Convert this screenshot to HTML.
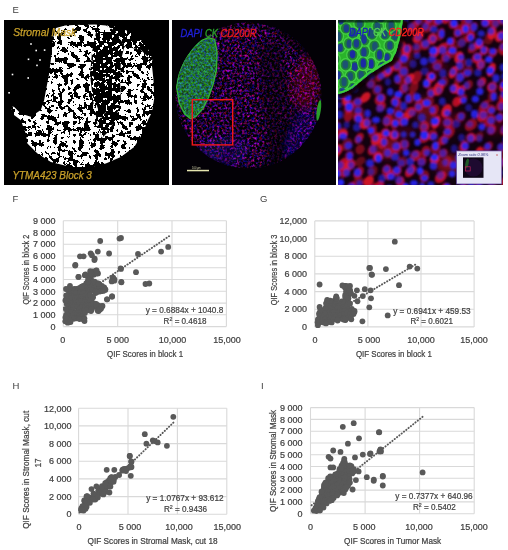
<!DOCTYPE html>
<html><head><meta charset="utf-8"><title>Figure</title>
<style>html,body{margin:0;padding:0;background:#fff;width:508px;height:550px;overflow:hidden}svg{display:block}</style>
</head><body>
<svg width="508" height="550" viewBox="0 0 508 550">
<rect width="508" height="550" fill="#fff"/>
<defs><filter id="spkD" x="0" y="0" width="1" height="1" color-interpolation-filters="sRGB"><feTurbulence type="fractalNoise" baseFrequency="0.19" numOctaves="4" seed="3"/><feColorMatrix type="matrix" values="0 0 0 0 1 0 0 0 0 1 0 0 0 0 1 1 0 0 0 0"/><feComponentTransfer><feFuncA type="discrete" tableValues="0 0 0 0 0 0 0 0 0 0 0 0 0 0 0 0 0 0 0 0 0 0 0 1 1 1 1 1 1 1 1 1 1 1 1 1 1 1 1 1 1 1 1 1 1 1 1 1 1 1"/></feComponentTransfer><feGaussianBlur stdDeviation="0.35"/></filter><filter id="spkS" x="0" y="0" width="1" height="1" color-interpolation-filters="sRGB"><feTurbulence type="fractalNoise" baseFrequency="0.25" numOctaves="2" seed="9"/><feColorMatrix type="matrix" values="0 0 0 0 1 0 0 0 0 1 0 0 0 0 1 1 0 0 0 0"/><feComponentTransfer><feFuncA type="discrete" tableValues="0 0 0 0 0 0 0 0 0 0 0 0 0 0 0 0 0 0 0 0 0 0 0 0 0 0 0 0 0 0 1 1 1 1 1 1 1 1 1 1 1 1 1 1 1 1 1 1 1 1"/></feComponentTransfer><feGaussianBlur stdDeviation="0.35"/></filter><filter id="spkX" x="0" y="0" width="1" height="1" color-interpolation-filters="sRGB"><feTurbulence type="fractalNoise" baseFrequency="0.3" numOctaves="2" seed="12"/><feColorMatrix type="matrix" values="0 0 0 0 1 0 0 0 0 1 0 0 0 0 1 1 0 0 0 0"/><feComponentTransfer><feFuncA type="discrete" tableValues="0 0 0 0 0 0 0 0 0 0 0 0 0 0 0 0 0 0 0 0 0 0 0 0 0 0 0 0 0 0 0 0 0 1 1 1 1 1 1 1 1 1 1 1 1 1 1 1 1 1"/></feComponentTransfer><feGaussianBlur stdDeviation="0.35"/></filter><filter id="fl2" x="0" y="0" width="1" height="1" color-interpolation-filters="sRGB"><feTurbulence type="fractalNoise" baseFrequency="0.4" numOctaves="2" seed="4"/><feColorMatrix type="matrix" values="1.7 0.7 0 0 -1.1  0 0 0 0 0.01  0.7 1.7 0 0 -1.02  0 0 0 0 1"/><feGaussianBlur stdDeviation="0.5"/></filter><filter id="fl2g" x="0" y="0" width="1" height="1" color-interpolation-filters="sRGB"><feTurbulence type="fractalNoise" baseFrequency="0.45" numOctaves="2" seed="8"/><feColorMatrix type="matrix" values="0.2 0 0 0 0.04  1.1 0 0 0 -0.1  0 2.0 0 0 -0.7  0 0 0 0 1"/><feGaussianBlur stdDeviation="0.3"/></filter><filter id="bl1" x="-5%" y="-5%" width="110%" height="110%"><feGaussianBlur stdDeviation="1"/></filter><filter id="bl2" x="-20%" y="-20%" width="140%" height="140%"><feGaussianBlur stdDeviation="3"/></filter><filter id="bl3" x="-5%" y="-5%" width="110%" height="110%"><feGaussianBlur stdDeviation="0.5"/></filter><clipPath id="c1"><polygon points="74,25 95,24.5 106,25.5 114,30 120,38 124,46 132,48 141,50 148,57 152,66 153.5,80 154.3,98 152,112 148,120 142.6,133.5 134.2,146.9 120.8,156.9 105.8,163.6 90.7,166.9 70.9,166.9 50.9,161.9 37.5,153.5 27.4,143.5 25.8,133.5 20.7,120 14,115 10.7,106.7 14,106.7 20.7,113.4 30.8,116.7 40.8,110 44.2,100 46,90 48.9,75 51.4,55 53,38 56,28 65,25.5"/></clipPath><clipPath id="c1s"><polygon points="92,52 96,32 124,32 130,40 124,48 121,60 120,80 121,100 116,118 108,132 102,138 97,122 93,100 90,75"/></clipPath><clipPath id="c1t"><polygon points="104,25 118,27 130,32 140,39 147,47 152,58 153.5,72 148,57 141,50 132,48 124,46 120,38 114,30"/></clipPath><clipPath id="c2"><circle cx="248.5" cy="95.5" r="73"/></clipPath><clipPath id="c3"><rect x="338" y="20" width="165" height="165"/></clipPath></defs>
<rect x="4" y="20" width="165" height="165" fill="#000"/><g clip-path="url(#c1)"><rect x="4" y="20" width="165" height="165" filter="url(#spkD)"/><polygon points="92,52 96,32 124,32 130,40 124,48 121,60 120,80 121,100 116,118 108,132 102,138 97,122 93,100 90,75" fill="#000"/><g clip-path="url(#c1s)"><rect x="4" y="20" width="165" height="165" filter="url(#spkS)"/></g><polygon points="92,55 100,52 104,70 106,100 106,112 101,118 95,100" fill="#000"/><g clip-path="url(#c1)"><polygon points="92,55 100,52 104,70 106,100 106,112 101,118 95,100" filter="url(#spkX)"/></g></g><g clip-path="url(#c1t)"><rect x="4" y="20" width="165" height="165" filter="url(#spkS)"/></g><rect x="35.4" y="49.7" width="1.6" height="1.6" fill="#fff"/><rect x="43.8" y="49.3" width="1.6" height="1.6" fill="#fff"/><rect x="27.7" y="58.5" width="1.6" height="1.6" fill="#fff"/><rect x="36.2" y="64.6" width="1.6" height="1.6" fill="#fff"/><rect x="11.7" y="73.7" width="1.6" height="1.6" fill="#fff"/><rect x="27.4" y="77.2" width="1.6" height="1.6" fill="#fff"/><rect x="8.3" y="92" width="1.6" height="1.6" fill="#fff"/><rect x="39.2" y="59.2" width="1.6" height="1.6" fill="#fff"/><rect x="30.2" y="43.2" width="1.6" height="1.6" fill="#fff"/><g style="font-family:'Liberation Sans',Arial,sans-serif;font-style:italic" stroke="#c9a12a" stroke-width="0.25"><text x="13.2" y="36.2" font-size="10" fill="#c9a12a" textLength="63" lengthAdjust="spacingAndGlyphs">Stromal Mask</text><text x="12.4" y="178.9" font-size="10" fill="#c9a12a" textLength="79.5" lengthAdjust="spacingAndGlyphs">YTMA423 Block 3</text></g>
<rect x="172" y="20" width="164" height="165" fill="#030106"/><g clip-path="url(#c2)"><rect x="175" y="22" width="148" height="148" fill="#0a0418"/><rect x="175" y="22" width="148" height="148" filter="url(#fl2)"/><g filter="url(#bl2)"><polygon points="258,45 280,40 290,90 288,160 268,165 262,110" fill="#000" opacity="0.45"/><polygon points="262,20 300,20 330,45 318,60 300,55 285,40" fill="#000" opacity="0.6"/><polygon points="300,95 310,100 275,170 262,168" fill="#000" opacity="0.35"/><polygon points="240,120 250,122 225,170 215,168" fill="#000" opacity="0.25"/><circle cx="248.5" cy="95.5" r="76" fill="none" stroke="#000" stroke-width="8" opacity="0.5"/><ellipse cx="305" cy="85" rx="12" ry="25" fill="#ff1030" opacity="0.18"/><ellipse cx="225" cy="150" rx="25" ry="14" fill="#3020ff" opacity="0.15"/><ellipse cx="300" cy="135" rx="10" ry="28" transform="rotate(20 300 135)" fill="#2010ff" opacity="0.15"/></g><clipPath id="leafc"><polygon points="208.4,37.7 214.7,39.5 217.1,52.3 216.5,70.5 212.9,85 208.4,97.7 202.9,108.6 195.6,116.8 190.2,118.6 184.7,114.1 179.3,103.2 176.5,86.8 178.4,74.1 184.7,59.5 193.8,46.8 201.1,40.5"/></clipPath><polygon points="208.4,37.7 214.7,39.5 217.1,52.3 216.5,70.5 212.9,85 208.4,97.7 202.9,108.6 195.6,116.8 190.2,118.6 184.7,114.1 179.3,103.2 176.5,86.8 178.4,74.1 184.7,59.5 193.8,46.8 201.1,40.5" fill="#186428"/><g clip-path="url(#leafc)"><rect x="174" y="36" width="46" height="85" filter="url(#fl2g)" opacity="0.7"/></g><polygon points="208.4,37.7 214.7,39.5 217.1,52.3 216.5,70.5 212.9,85 208.4,97.7 202.9,108.6 195.6,116.8 190.2,118.6 184.7,114.1 179.3,103.2 176.5,86.8 178.4,74.1 184.7,59.5 193.8,46.8 201.1,40.5" fill="none" stroke="#36c036" stroke-width="1.3" stroke-opacity="0.9" filter="url(#bl3)"/></g><ellipse cx="318.8" cy="110.3" rx="2" ry="10.5" transform="rotate(8 318.8 110.3)" fill="#2aa02a"/><rect x="192.3" y="99.7" width="40.4" height="45.2" fill="none" stroke="#f01818" stroke-width="1.4"/><rect x="187" y="169.8" width="22" height="1.5" fill="#e6e6b0"/><text x="192" y="168.6" font-size="2.6" fill="#d8d8b0" style="font-family:'Liberation Sans',Arial,sans-serif">100 µm</text><g style="font-family:'Liberation Sans',Arial,sans-serif;font-style:italic"><text x="180.5" y="36.6" font-size="10.5" textLength="76" lengthAdjust="spacingAndGlyphs"><tspan fill="#2020d8" stroke="#2020d8" stroke-width="0.35">DAPI </tspan><tspan fill="#2aa02a" stroke="#2aa02a" stroke-width="0.35">CK </tspan><tspan fill="#e81c1c" stroke="#e81c1c" stroke-width="0.35">CD200R</tspan></text></g>
<rect x="338" y="20" width="165" height="165" fill="#12020f"/><g clip-path="url(#c3)"><g fill="#d01428" filter="url(#bl2)"><ellipse cx="490.8" cy="163.2" rx="11.3" ry="7.8" fill-opacity="0.3"/><ellipse cx="404.5" cy="131.7" rx="12.3" ry="6.3" fill-opacity="0.2"/><ellipse cx="449.7" cy="163.8" rx="14.5" ry="7.1" fill-opacity="0.2"/><ellipse cx="448" cy="120.4" rx="14.8" ry="9.2" fill-opacity="0.2"/><ellipse cx="423.1" cy="105.5" rx="9.9" ry="9.4" fill-opacity="0.3"/><ellipse cx="401.5" cy="57.2" rx="12.7" ry="11.4" fill-opacity="0.3"/><ellipse cx="359.2" cy="31.8" rx="10.6" ry="8.6" fill-opacity="0.3"/><ellipse cx="388.8" cy="146.5" rx="11.2" ry="7.8" fill-opacity="0.3"/><ellipse cx="387.7" cy="148.2" rx="14.5" ry="11.8" fill-opacity="0.3"/><ellipse cx="428.1" cy="118.1" rx="12.6" ry="9.3" fill-opacity="0.3"/><ellipse cx="448" cy="165.9" rx="15.5" ry="8" fill-opacity="0.2"/><ellipse cx="494.1" cy="127" rx="11.9" ry="7.9" fill-opacity="0.2"/><ellipse cx="437.5" cy="68.2" rx="11.2" ry="8.1" fill-opacity="0.2"/><ellipse cx="450.2" cy="163.7" rx="14.4" ry="9.9" fill-opacity="0.3"/></g><g filter="url(#bl1)"><g fill="#e0142a"><ellipse cx="410.8" cy="111.1" rx="6.5" ry="4.8" transform="rotate(-47 412.3 112.8)" fill-opacity="0.8"/><ellipse cx="494.4" cy="94.7" rx="6.9" ry="4.3" transform="rotate(-71.5 493.9 96.6)" fill-opacity="0.4"/><ellipse cx="443" cy="153.3" rx="5.3" ry="4.1" transform="rotate(-41.4 443 153.2)" fill-opacity="0.6"/><ellipse cx="349.7" cy="155.2" rx="5.6" ry="4" transform="rotate(-44.8 349.7 156.1)" fill-opacity="0.4"/><ellipse cx="452.7" cy="23.5" rx="5.3" ry="4.5" transform="rotate(-43.9 454 23.2)" fill-opacity="0.6"/><ellipse cx="505.6" cy="183.4" rx="5.2" ry="3.9" transform="rotate(-67.4 503.9 182.9)" fill-opacity="0.8"/><ellipse cx="447.2" cy="123.6" rx="5.9" ry="5.1" transform="rotate(-67.6 447.1 122.5)" fill-opacity="0.6"/><ellipse cx="425.8" cy="28.1" rx="6" ry="5.1" transform="rotate(-44.9 425.4 26.3)" fill-opacity="0.6"/><ellipse cx="423.8" cy="127.5" rx="6" ry="5" transform="rotate(-74.1 423.8 126.8)" fill-opacity="0.7"/><ellipse cx="480.5" cy="136.9" rx="5.4" ry="4" transform="rotate(-48.8 479.4 138.5)" fill-opacity="0.4"/><ellipse cx="390.5" cy="54.6" rx="7.2" ry="4.7" transform="rotate(-68.4 388.5 55.7)" fill-opacity="0.8"/><ellipse cx="384.7" cy="29.6" rx="6" ry="4.6" transform="rotate(-45.2 384 28.1)" fill-opacity="0.8"/><ellipse cx="468" cy="86.8" rx="5.3" ry="3.9" transform="rotate(-58.5 466.6 85.3)" fill-opacity="0.5"/><ellipse cx="481.8" cy="83.6" rx="5.6" ry="4" transform="rotate(-55 480.5 82.9)" fill-opacity="0.8"/><ellipse cx="499.8" cy="163.2" rx="5.4" ry="4.3" transform="rotate(-49.2 499.7 162.6)" fill-opacity="0.7"/><ellipse cx="332.4" cy="50.9" rx="6" ry="5.1" transform="rotate(-64.6 334.1 52.3)" fill-opacity="0.6"/><ellipse cx="502.7" cy="84.9" rx="6.5" ry="3.8" transform="rotate(-64 503.6 84.8)" fill-opacity="0.8"/><ellipse cx="501.6" cy="147.9" rx="6" ry="3.9" transform="rotate(-47.5 500.8 147.1)" fill-opacity="0.4"/><ellipse cx="354.7" cy="57.1" rx="6.7" ry="4.1" transform="rotate(-55.1 354.4 58.6)" fill-opacity="0.6"/><ellipse cx="472.6" cy="48.6" rx="7.2" ry="4.1" transform="rotate(-42.1 471.9 46.7)" fill-opacity="0.6"/><ellipse cx="432.3" cy="93.6" rx="5.5" ry="5" transform="rotate(-58.4 430.8 93.4)" fill-opacity="0.6"/><ellipse cx="385.5" cy="169.7" rx="6.1" ry="5" transform="rotate(-73.9 386.6 169.1)" fill-opacity="0.6"/><ellipse cx="371.3" cy="84.1" rx="5.1" ry="4.6" transform="rotate(-40.6 370.5 84.2)" fill-opacity="0.5"/><ellipse cx="351" cy="186.6" rx="6.6" ry="3.9" transform="rotate(-55.8 351.4 187.1)" fill-opacity="0.6"/><ellipse cx="468.3" cy="72.1" rx="6.8" ry="4.7" transform="rotate(-50.4 467.7 72.9)" fill-opacity="0.4"/><ellipse cx="350.3" cy="115.3" rx="6.3" ry="4.3" transform="rotate(-74.5 349.6 116.8)" fill-opacity="0.6"/><ellipse cx="365.3" cy="43.8" rx="5.1" ry="5" transform="rotate(-59.9 365.6 42.7)" fill-opacity="0.4"/><ellipse cx="489.9" cy="157.3" rx="6.4" ry="4.5" transform="rotate(-50.7 491.2 157.5)" fill-opacity="0.6"/><ellipse cx="376.9" cy="48.9" rx="6.3" ry="4.9" transform="rotate(-62.2 377.2 48.8)" fill-opacity="0.8"/><ellipse cx="367.8" cy="181.3" rx="6.2" ry="4.5" transform="rotate(-45.7 368 180.4)" fill-opacity="0.9"/><ellipse cx="374.9" cy="139.6" rx="7" ry="5" transform="rotate(-58 375.2 137.9)" fill-opacity="0.9"/><ellipse cx="379.5" cy="157.4" rx="5.5" ry="5" transform="rotate(-64.3 378.5 158.5)" fill-opacity="0.9"/><ellipse cx="438.8" cy="66.3" rx="6.1" ry="5.1" transform="rotate(-69.3 437.2 66.8)" fill-opacity="0.5"/><ellipse cx="345.9" cy="54.4" rx="5.4" ry="4.1" transform="rotate(-73.4 345.9 55.5)" fill-opacity="0.7"/><ellipse cx="491.8" cy="52.7" rx="5.5" ry="3.9" transform="rotate(-45.7 492.7 51.3)" fill-opacity="0.6"/><ellipse cx="337.7" cy="64.3" rx="7.2" ry="5" transform="rotate(-70.3 336.9 62.6)" fill-opacity="0.8"/><ellipse cx="412.8" cy="28.3" rx="7.4" ry="4.1" transform="rotate(-45.3 411.1 26.5)" fill-opacity="0.7"/><ellipse cx="432.8" cy="38.2" rx="5.7" ry="4.8" transform="rotate(-73.5 433 38.8)" fill-opacity="0.9"/><ellipse cx="396.3" cy="171.2" rx="5.2" ry="4.1" transform="rotate(-67.8 396.7 170.1)" fill-opacity="0.6"/><ellipse cx="505.5" cy="130.6" rx="7.3" ry="4.2" transform="rotate(-52.8 503.6 129.6)" fill-opacity="0.7"/><ellipse cx="336" cy="125" rx="7" ry="3.9" transform="rotate(-70 337.7 126.1)" fill-opacity="0.4"/><ellipse cx="469.9" cy="174.5" rx="7.5" ry="3.9" transform="rotate(-72.1 471.2 174.3)" fill-opacity="0.5"/><ellipse cx="393.9" cy="134.3" rx="5.3" ry="5" transform="rotate(-48.7 394.9 134.5)" fill-opacity="0.9"/><ellipse cx="489.5" cy="167.7" rx="6.1" ry="4.3" transform="rotate(-74.1 489.8 166.7)" fill-opacity="0.7"/><ellipse cx="482" cy="114.5" rx="6.6" ry="4.5" transform="rotate(-59.1 483.4 115.1)" fill-opacity="0.8"/><ellipse cx="442.5" cy="83.7" rx="6.5" ry="4.6" transform="rotate(-57.2 442.1 82.1)" fill-opacity="0.4"/><ellipse cx="434.3" cy="122.7" rx="6.9" ry="3.9" transform="rotate(-66.4 434.8 121.3)" fill-opacity="0.9"/><ellipse cx="460.4" cy="116.2" rx="6.1" ry="4.8" transform="rotate(-41.5 461.2 116.5)" fill-opacity="0.4"/><ellipse cx="348.9" cy="143.9" rx="7" ry="5.1" transform="rotate(-60.6 348.5 145.8)" fill-opacity="0.4"/><ellipse cx="455.8" cy="103.5" rx="5.4" ry="4.1" transform="rotate(-62.3 454.8 102)" fill-opacity="0.8"/><ellipse cx="439.3" cy="176.9" rx="7.1" ry="4.9" transform="rotate(-46.2 440.3 175.2)" fill-opacity="0.8"/><ellipse cx="378.6" cy="17.2" rx="7.1" ry="4.1" transform="rotate(-40.4 378.3 18)" fill-opacity="0.7"/><ellipse cx="385.6" cy="132.4" rx="5.3" ry="4.6" transform="rotate(-46.9 386.1 133.3)" fill-opacity="0.7"/><ellipse cx="491.6" cy="130.9" rx="5.5" ry="4" transform="rotate(-62.7 490.7 130.2)" fill-opacity="0.7"/><ellipse cx="409.9" cy="170.8" rx="7.2" ry="4.4" transform="rotate(-50.9 410.5 170.3)" fill-opacity="0.8"/><ellipse cx="357.4" cy="102.4" rx="6" ry="5" transform="rotate(-43.4 357.6 101.9)" fill-opacity="0.5"/><ellipse cx="478.7" cy="162" rx="6.9" ry="4.7" transform="rotate(-40 478.8 162.8)" fill-opacity="0.6"/><ellipse cx="502.2" cy="95.4" rx="6.6" ry="4.1" transform="rotate(-54.4 503.9 94.3)" fill-opacity="0.7"/><ellipse cx="486" cy="23.5" rx="5" ry="4.6" transform="rotate(-72.5 485 23.2)" fill-opacity="0.8"/><ellipse cx="388.2" cy="153.5" rx="5.1" ry="5" transform="rotate(-47.9 387.5 152.9)" fill-opacity="0.5"/><ellipse cx="337.7" cy="37.8" rx="6.7" ry="4.7" transform="rotate(-40.2 337.3 39.5)" fill-opacity="0.9"/><ellipse cx="476.5" cy="57.1" rx="5.7" ry="4.9" transform="rotate(-56.9 477.5 57.1)" fill-opacity="0.8"/><ellipse cx="451.2" cy="50.4" rx="7.5" ry="4.6" transform="rotate(-67 452.4 50.5)" fill-opacity="0.5"/><ellipse cx="416.3" cy="48.7" rx="7.3" ry="4" transform="rotate(-67.1 416.2 46.9)" fill-opacity="0.5"/><ellipse cx="380.3" cy="74.1" rx="6" ry="3.9" transform="rotate(-73.6 381.1 75.8)" fill-opacity="0.6"/><ellipse cx="489" cy="32.8" rx="6.8" ry="4.4" transform="rotate(-73.6 490.8 31.1)" fill-opacity="0.9"/><ellipse cx="401" cy="112.6" rx="7.4" ry="4.7" transform="rotate(-74.7 399.2 114.4)" fill-opacity="0.4"/><ellipse cx="459.8" cy="159.2" rx="6.9" ry="4.8" transform="rotate(-69.7 458.9 157.6)" fill-opacity="0.5"/><ellipse cx="443.8" cy="138.2" rx="5.1" ry="4.1" transform="rotate(-64.4 445 140.2)" fill-opacity="0.7"/><ellipse cx="372.3" cy="172.7" rx="6" ry="4.9" transform="rotate(-53.8 370.9 171.7)" fill-opacity="0.4"/><ellipse cx="427.6" cy="151" rx="6.2" ry="4.4" transform="rotate(-69.1 426.9 152.8)" fill-opacity="0.6"/><ellipse cx="419.4" cy="21.7" rx="6" ry="4.1" transform="rotate(-47.1 418.3 20.9)" fill-opacity="0.4"/><ellipse cx="472.2" cy="26.3" rx="7.1" ry="3.9" transform="rotate(-46.5 474 27.1)" fill-opacity="0.5"/><ellipse cx="383.1" cy="141.2" rx="6.4" ry="5" transform="rotate(-61.2 384.2 142.1)" fill-opacity="0.6"/><ellipse cx="480.9" cy="171" rx="5.5" ry="4.5" transform="rotate(-64.3 480.2 171.8)" fill-opacity="0.8"/><ellipse cx="503.1" cy="106" rx="6.7" ry="5.2" transform="rotate(-51 501.5 106.7)" fill-opacity="0.7"/><ellipse cx="432.7" cy="52.6" rx="6" ry="5" transform="rotate(-60.7 433.1 50.8)" fill-opacity="0.8"/><ellipse cx="428.3" cy="104.1" rx="6.9" ry="5.1" transform="rotate(-57.3 426.7 103)" fill-opacity="0.4"/><ellipse cx="438.4" cy="20.2" rx="7.1" ry="4.2" transform="rotate(-41.8 438.7 20.8)" fill-opacity="0.7"/><ellipse cx="379.4" cy="98.6" rx="6.4" ry="5" transform="rotate(-44.7 380.6 97.9)" fill-opacity="0.7"/><ellipse cx="365.2" cy="122.4" rx="6.2" ry="4.9" transform="rotate(-41.6 367.1 122.9)" fill-opacity="0.9"/><ellipse cx="466.9" cy="18.3" rx="7.1" ry="4.9" transform="rotate(-59 468.8 19.9)" fill-opacity="0.6"/><ellipse cx="452.6" cy="72.2" rx="6.7" ry="4" transform="rotate(-63.9 452.9 71.7)" fill-opacity="0.9"/><ellipse cx="394.4" cy="122.5" rx="5.8" ry="3.9" transform="rotate(-74.9 395.5 123.2)" fill-opacity="0.5"/><ellipse cx="424.2" cy="43.6" rx="5.6" ry="4.6" transform="rotate(-66.9 425.6 43.6)" fill-opacity="0.6"/><ellipse cx="491.4" cy="71.3" rx="7.4" ry="3.9" transform="rotate(-67.2 490.2 70.6)" fill-opacity="0.9"/><ellipse cx="372.4" cy="189.6" rx="6.4" ry="4.3" transform="rotate(-62.1 371.7 188.7)" fill-opacity="0.6"/><ellipse cx="488.4" cy="40.4" rx="6" ry="4.6" transform="rotate(-59.2 487.5 39.2)" fill-opacity="0.4"/><ellipse cx="471" cy="36.7" rx="6.1" ry="4.5" transform="rotate(-48.5 470.7 37.8)" fill-opacity="0.7"/><ellipse cx="500.4" cy="35.1" rx="6.3" ry="4.5" transform="rotate(-54.5 501.5 36)" fill-opacity="0.9"/><ellipse cx="477.7" cy="186.2" rx="6.1" ry="4.1" transform="rotate(-63.4 479.4 187.3)" fill-opacity="0.9"/><ellipse cx="363.4" cy="96.5" rx="6.1" ry="4.1" transform="rotate(-47.7 365.4 94.5)" fill-opacity="0.9"/><ellipse cx="503" cy="153.8" rx="6.8" ry="4.5" transform="rotate(-57.3 504 155.2)" fill-opacity="0.4"/><ellipse cx="335.5" cy="77.2" rx="5.9" ry="3.8" transform="rotate(-47.3 335.8 77.5)" fill-opacity="0.5"/><ellipse cx="427.2" cy="84.4" rx="5.6" ry="3.9" transform="rotate(-56.7 426.2 83.4)" fill-opacity="0.7"/><ellipse cx="503.6" cy="18.9" rx="5.3" ry="5" transform="rotate(-72.5 503.6 19.9)" fill-opacity="0.6"/><ellipse cx="396.3" cy="65.4" rx="5.8" ry="4.9" transform="rotate(-49.5 397.2 65.4)" fill-opacity="0.7"/><ellipse cx="448.7" cy="111.3" rx="7.3" ry="4.8" transform="rotate(-62.5 447.3 113)" fill-opacity="0.9"/><ellipse cx="346.8" cy="171" rx="6.9" ry="4.1" transform="rotate(-55 346.7 172.7)" fill-opacity="0.7"/><ellipse cx="409.7" cy="99.7" rx="6.2" ry="4.7" transform="rotate(-60.3 408.3 98.6)" fill-opacity="0.5"/><ellipse cx="426.1" cy="177.4" rx="6.3" ry="5" transform="rotate(-73.6 424.5 178.1)" fill-opacity="0.5"/><ellipse cx="460" cy="55.5" rx="6.4" ry="4.7" transform="rotate(-72.1 461 57.2)" fill-opacity="0.9"/><ellipse cx="470" cy="125.6" rx="7.1" ry="5.2" transform="rotate(-43.6 469.7 124.1)" fill-opacity="0.6"/><ellipse cx="440.9" cy="32.7" rx="7" ry="4.1" transform="rotate(-73.4 441.8 33.7)" fill-opacity="0.5"/><ellipse cx="347.2" cy="37.9" rx="5.5" ry="5" transform="rotate(-48.5 346.9 36.7)" fill-opacity="0.9"/><ellipse cx="445.9" cy="186.8" rx="5.2" ry="5" transform="rotate(-52.4 447.1 187.1)" fill-opacity="0.8"/><ellipse cx="409.4" cy="80.1" rx="6.8" ry="3.9" transform="rotate(-47.2 408 79.9)" fill-opacity="0.9"/><ellipse cx="370.7" cy="132.5" rx="7.3" ry="4" transform="rotate(-73.7 370.9 130.5)" fill-opacity="0.5"/><ellipse cx="397" cy="36.2" rx="7.3" ry="4.1" transform="rotate(-69.5 397.4 36.3)" fill-opacity="0.9"/><ellipse cx="493.5" cy="176.9" rx="7.1" ry="4.8" transform="rotate(-60.9 492.9 178.6)" fill-opacity="0.8"/><ellipse cx="397.7" cy="80.8" rx="5.2" ry="5.1" transform="rotate(-54.9 397.2 78.9)" fill-opacity="0.5"/><ellipse cx="447.8" cy="56.7" rx="6.1" ry="4.3" transform="rotate(-61.5 446.3 58.5)" fill-opacity="0.6"/><ellipse cx="492.1" cy="86.7" rx="5.6" ry="4.9" transform="rotate(-48.4 492.3 87)" fill-opacity="0.8"/><ellipse cx="461.9" cy="188" rx="5.4" ry="4.2" transform="rotate(-64.8 462.2 187.4)" fill-opacity="0.9"/><ellipse cx="399.2" cy="46.5" rx="5.5" ry="4.8" transform="rotate(-63.2 399 45)" fill-opacity="0.9"/><ellipse cx="483.4" cy="105.5" rx="7.5" ry="3.9" transform="rotate(-51.8 484.4 105.3)" fill-opacity="0.6"/><ellipse cx="382" cy="108" rx="5.7" ry="3.9" transform="rotate(-43.3 380.1 108.5)" fill-opacity="0.7"/><ellipse cx="360" cy="149.3" rx="5.3" ry="4.5" transform="rotate(-60.7 360.1 149.3)" fill-opacity="0.5"/><ellipse cx="335" cy="156.3" rx="6.6" ry="4.4" transform="rotate(-40.8 334.2 158.1)" fill-opacity="0.6"/><ellipse cx="459.8" cy="32.4" rx="7.2" ry="4.5" transform="rotate(-61.3 458 32.8)" fill-opacity="0.6"/><ellipse cx="499.5" cy="118.4" rx="5.3" ry="3.9" transform="rotate(-73.6 499.3 117.5)" fill-opacity="0.6"/><ellipse cx="359.5" cy="160.2" rx="5.8" ry="4" transform="rotate(-44.4 361.3 159.9)" fill-opacity="0.4"/><ellipse cx="386.7" cy="69.9" rx="7.3" ry="5.2" transform="rotate(-49.4 387.9 69.8)" fill-opacity="0.9"/><ellipse cx="396.3" cy="102.7" rx="5.1" ry="5.1" transform="rotate(-61.4 395 102.6)" fill-opacity="0.7"/><ellipse cx="359.8" cy="139.2" rx="6.1" ry="3.9" transform="rotate(-54.1 358.5 139.4)" fill-opacity="0.7"/><ellipse cx="444.1" cy="48.4" rx="6.2" ry="4.2" transform="rotate(-42.5 442.5 50.2)" fill-opacity="0.8"/><ellipse cx="434.1" cy="134.7" rx="5.6" ry="5.1" transform="rotate(-54.6 433.7 136.6)" fill-opacity="0.6"/><ellipse cx="391.2" cy="174.8" rx="5.7" ry="4.4" transform="rotate(-42.4 390.9 176.7)" fill-opacity="0.7"/><ellipse cx="357.8" cy="173.6" rx="7.2" ry="4.4" transform="rotate(-55.7 357.5 172.4)" fill-opacity="0.6"/><ellipse cx="490.9" cy="189" rx="6.2" ry="4.4" transform="rotate(-48.5 491.3 187.6)" fill-opacity="0.5"/><ellipse cx="450.3" cy="42.6" rx="5.3" ry="4.3" transform="rotate(-42 450.1 41)" fill-opacity="0.6"/><ellipse cx="414.4" cy="86.1" rx="6.6" ry="4.2" transform="rotate(-65.3 415.3 87.2)" fill-opacity="0.5"/><ellipse cx="464.1" cy="145.1" rx="6.2" ry="4.5" transform="rotate(-74.4 465.1 146)" fill-opacity="0.8"/><ellipse cx="345" cy="134.6" rx="5.3" ry="5" transform="rotate(-52.9 343 136.2)" fill-opacity="0.9"/><ellipse cx="375.3" cy="65.8" rx="6.7" ry="4.2" transform="rotate(-46 376.2 67.8)" fill-opacity="0.4"/><ellipse cx="422.4" cy="162" rx="5.2" ry="4.1" transform="rotate(-44.2 421.5 162.3)" fill-opacity="0.6"/><ellipse cx="433.2" cy="111.8" rx="6.3" ry="4.3" transform="rotate(-62.6 432.4 110)" fill-opacity="0.6"/><ellipse cx="478.9" cy="153.7" rx="5.2" ry="4" transform="rotate(-69.8 477.8 152.1)" fill-opacity="0.9"/><ellipse cx="343.3" cy="85.3" rx="7" ry="4.2" transform="rotate(-52.1 344.6 87)" fill-opacity="0.7"/><ellipse cx="398.3" cy="52.5" rx="6.4" ry="4.2" transform="rotate(-65.5 397 53.4)" fill-opacity="0.6"/><ellipse cx="358" cy="52.4" rx="6.1" ry="4.5" transform="rotate(-66.2 359.5 51.4)" fill-opacity="0.5"/><ellipse cx="374.8" cy="33.7" rx="7.2" ry="4.3" transform="rotate(-44.1 375.5 32.1)" fill-opacity="0.8"/><ellipse cx="404.1" cy="86.9" rx="5.1" ry="4.6" transform="rotate(-64.7 405.1 87.9)" fill-opacity="0.7"/><ellipse cx="454.1" cy="89.9" rx="5.5" ry="4.8" transform="rotate(-48.4 453 88.5)" fill-opacity="0.9"/><ellipse cx="392.1" cy="21.4" rx="7.4" ry="4.8" transform="rotate(-69.8 391.1 20.6)" fill-opacity="0.5"/><ellipse cx="418" cy="36.7" rx="7" ry="4.2" transform="rotate(-50.4 418.5 36.8)" fill-opacity="0.9"/><ellipse cx="395.1" cy="147" rx="5.8" ry="4.3" transform="rotate(-73.3 396.1 146.4)" fill-opacity="0.6"/><ellipse cx="403.5" cy="71.3" rx="6.3" ry="5" transform="rotate(-59.3 403.8 71.6)" fill-opacity="0.5"/><ellipse cx="483.5" cy="50.9" rx="5.1" ry="3.9" transform="rotate(-45.6 483.7 49.9)" fill-opacity="0.8"/><ellipse cx="402.5" cy="163.3" rx="5.6" ry="5.1" transform="rotate(-63.3 401.2 162.9)" fill-opacity="0.4"/><ellipse cx="495.6" cy="171" rx="5" ry="4" transform="rotate(-60.3 497.4 171)" fill-opacity="0.5"/><ellipse cx="406.1" cy="120" rx="7.4" ry="4.9" transform="rotate(-57.6 404.3 121.9)" fill-opacity="0.7"/><ellipse cx="447.1" cy="164.1" rx="5.5" ry="3.9" transform="rotate(-67.4 445.2 162.6)" fill-opacity="0.4"/><ellipse cx="416.9" cy="77.6" rx="7.2" ry="4.9" transform="rotate(-60.9 416.5 78)" fill-opacity="0.6"/><ellipse cx="463.5" cy="98.5" rx="6.1" ry="4.1" transform="rotate(-46.8 463.7 100.3)" fill-opacity="0.5"/><ellipse cx="336.3" cy="87.9" rx="5.5" ry="4.3" transform="rotate(-74.1 335.5 86.3)" fill-opacity="0.4"/><ellipse cx="430.9" cy="76" rx="5.1" ry="5.1" transform="rotate(-56.8 431.9 76.3)" fill-opacity="0.8"/><ellipse cx="336.5" cy="150.4" rx="6.2" ry="4.8" transform="rotate(-61.9 336.6 149.2)" fill-opacity="0.9"/><ellipse cx="401" cy="25.5" rx="6.4" ry="4.4" transform="rotate(-47.9 399.8 27.3)" fill-opacity="0.6"/><ellipse cx="342.1" cy="167.2" rx="7" ry="4.7" transform="rotate(-58.2 340.1 165.2)" fill-opacity="0.8"/><ellipse cx="447.5" cy="133.4" rx="7.1" ry="5.2" transform="rotate(-49.3 447.4 131.7)" fill-opacity="0.6"/><ellipse cx="371.8" cy="148.5" rx="5.4" ry="4" transform="rotate(-67.5 373.1 149.3)" fill-opacity="0.7"/><ellipse cx="487.7" cy="147.3" rx="6.1" ry="4" transform="rotate(-55.5 487.5 146.4)" fill-opacity="0.5"/><ellipse cx="495.6" cy="22.5" rx="5.8" ry="4.8" transform="rotate(-47.2 495.8 23.6)" fill-opacity="0.6"/><ellipse cx="333.7" cy="15.2" rx="6.9" ry="4.8" transform="rotate(-52.1 334.2 16.2)" fill-opacity="0.5"/><ellipse cx="356.4" cy="112" rx="6.6" ry="4.7" transform="rotate(-49.8 358.2 110.5)" fill-opacity="0.4"/><ellipse cx="349.5" cy="45.7" rx="7" ry="4.4" transform="rotate(-68.9 350.5 45.3)" fill-opacity="0.8"/><ellipse cx="471.6" cy="160.6" rx="7.4" ry="4.7" transform="rotate(-50.4 470.5 158.8)" fill-opacity="0.8"/><ellipse cx="501.8" cy="48" rx="7.3" ry="5.1" transform="rotate(-72.2 503 46.8)" fill-opacity="0.7"/><ellipse cx="398.2" cy="181.8" rx="5.3" ry="4.2" transform="rotate(-67.7 398.9 180.1)" fill-opacity="0.8"/><ellipse cx="359.4" cy="182.1" rx="7" ry="4.8" transform="rotate(-45.6 359.4 184)" fill-opacity="0.4"/><ellipse cx="353.9" cy="14.9" rx="5.7" ry="5.1" transform="rotate(-63.2 352.8 16.6)" fill-opacity="0.4"/><ellipse cx="387.5" cy="122.2" rx="6.5" ry="5.1" transform="rotate(-61.1 386.3 121)" fill-opacity="0.7"/><ellipse cx="433.7" cy="146.6" rx="6.7" ry="4.9" transform="rotate(-73.3 435.4 145.9)" fill-opacity="0.5"/><ellipse cx="405.2" cy="58.6" rx="6.4" ry="4" transform="rotate(-49.4 403.8 58.9)" fill-opacity="0.8"/><ellipse cx="462.6" cy="42.4" rx="7.4" ry="4.1" transform="rotate(-49.8 461.8 43)" fill-opacity="0.4"/><ellipse cx="440.4" cy="89.3" rx="7.4" ry="5.1" transform="rotate(-71.3 439 90.3)" fill-opacity="0.9"/><ellipse cx="420.4" cy="107.4" rx="7" ry="4.9" transform="rotate(-67.4 418.5 107)" fill-opacity="0.6"/><ellipse cx="459.1" cy="77.1" rx="7.4" ry="3.8" transform="rotate(-55 460.2 77.4)" fill-opacity="0.5"/><ellipse cx="490.7" cy="14.9" rx="7" ry="5" transform="rotate(-50.8 491.6 16.1)" fill-opacity="0.8"/><ellipse cx="414.5" cy="155.7" rx="6" ry="5.1" transform="rotate(-47.9 414.9 154.3)" fill-opacity="0.7"/><ellipse cx="377.2" cy="89.6" rx="6" ry="4.9" transform="rotate(-47 377.5 89.4)" fill-opacity="0.4"/><ellipse cx="404.1" cy="144.2" rx="5.3" ry="5.1" transform="rotate(-50.9 404.6 144.1)" fill-opacity="0.6"/><ellipse cx="381.7" cy="57.9" rx="5.5" ry="4.1" transform="rotate(-62.8 380.6 59.7)" fill-opacity="0.5"/><ellipse cx="429.9" cy="18.4" rx="6.6" ry="4.5" transform="rotate(-59.1 429.1 18.5)" fill-opacity="0.8"/><ellipse cx="490.2" cy="119.3" rx="7" ry="5.2" transform="rotate(-47.1 491.1 120.6)" fill-opacity="0.6"/><ellipse cx="333.7" cy="139.5" rx="5.9" ry="4.2" transform="rotate(-62.8 334 138.5)" fill-opacity="0.6"/><ellipse cx="471.7" cy="138.5" rx="5.1" ry="4.8" transform="rotate(-59.6 470.6 138.5)" fill-opacity="0.8"/><ellipse cx="406.3" cy="49.4" rx="6.4" ry="4.7" transform="rotate(-51.6 406.9 49.1)" fill-opacity="0.8"/><ellipse cx="381.3" cy="186.5" rx="6.4" ry="4.5" transform="rotate(-59.9 380.3 188.3)" fill-opacity="0.8"/><ellipse cx="346.2" cy="96.7" rx="7.1" ry="4.2" transform="rotate(-74.7 347.9 97.7)" fill-opacity="0.9"/><ellipse cx="422.9" cy="137.3" rx="6" ry="4.7" transform="rotate(-43.3 424.2 135.3)" fill-opacity="0.7"/><ellipse cx="445.2" cy="16.3" rx="5.9" ry="4.4" transform="rotate(-69.3 447.1 16.7)" fill-opacity="0.8"/><ellipse cx="349.2" cy="107.6" rx="7.3" ry="4.9" transform="rotate(-53.6 349.1 107)" fill-opacity="0.5"/><ellipse cx="333.2" cy="190.7" rx="7.3" ry="3.8" transform="rotate(-43.7 334.1 189)" fill-opacity="0.4"/><ellipse cx="342.5" cy="45.7" rx="5.7" ry="4.8" transform="rotate(-66.8 341.5 47.3)" fill-opacity="0.5"/><ellipse cx="342.1" cy="16.1" rx="6.1" ry="3.8" transform="rotate(-64.7 343.5 16.4)" fill-opacity="0.5"/><ellipse cx="461" cy="66.7" rx="7" ry="4.3" transform="rotate(-64.1 459.6 65.6)" fill-opacity="0.4"/><ellipse cx="492.3" cy="109.5" rx="5.2" ry="4.7" transform="rotate(-66.4 491.6 110.4)" fill-opacity="0.6"/><ellipse cx="481.4" cy="64.2" rx="5.3" ry="4.4" transform="rotate(-73.3 481.2 64.8)" fill-opacity="0.9"/><ellipse cx="368" cy="19.4" rx="7.1" ry="4.5" transform="rotate(-61.6 369.8 20.2)" fill-opacity="0.7"/><ellipse cx="464.2" cy="28.6" rx="6.7" ry="3.8" transform="rotate(-46.8 465.6 28.8)" fill-opacity="0.7"/><ellipse cx="477.4" cy="42.9" rx="5.2" ry="4.4" transform="rotate(-64 479.2 42)" fill-opacity="0.9"/><ellipse cx="462" cy="90.4" rx="5.9" ry="4.1" transform="rotate(-43.1 461 92)" fill-opacity="0.8"/><ellipse cx="433.4" cy="158.8" rx="5.3" ry="4.7" transform="rotate(-40.6 434.4 157.3)" fill-opacity="0.9"/><ellipse cx="351.1" cy="164.1" rx="6.1" ry="5.1" transform="rotate(-53.8 351.1 165.3)" fill-opacity="0.8"/><ellipse cx="359.5" cy="118.2" rx="5.4" ry="5" transform="rotate(-46.6 358.3 119)" fill-opacity="0.7"/></g><g fill="#2a26f4"><ellipse cx="412.3" cy="112.8" rx="3.7" ry="3.5" fill-opacity="0.5"/><ellipse cx="493.9" cy="96.6" rx="3" ry="4.2" fill-opacity="0.9"/><ellipse cx="421.9" cy="117.6" rx="4" ry="4.3" fill-opacity="0.6"/><ellipse cx="443" cy="153.2" rx="3.5" ry="4" fill-opacity="0.6"/><ellipse cx="350.3" cy="68.5" rx="3.4" ry="3.3" fill-opacity="0.6"/><ellipse cx="349.7" cy="156.1" rx="3.2" ry="4" fill-opacity="0.9"/><ellipse cx="454" cy="23.2" rx="3.6" ry="3.9" fill-opacity="1"/><ellipse cx="447.1" cy="122.5" rx="3.8" ry="3.6" fill-opacity="0.6"/><ellipse cx="361.2" cy="18.6" rx="3.8" ry="3.6" fill-opacity="0.8"/><ellipse cx="425.4" cy="26.3" rx="3.2" ry="3.6" fill-opacity="0.6"/><ellipse cx="366.9" cy="57.9" rx="3.7" ry="4" fill-opacity="0.6"/><ellipse cx="339.2" cy="96.3" rx="3.5" ry="3.4" fill-opacity="0.7"/><ellipse cx="410.2" cy="161.7" rx="3.9" ry="4.1" fill-opacity="0.7"/><ellipse cx="423.8" cy="126.8" rx="3.4" ry="3.3" fill-opacity="0.5"/><ellipse cx="413.1" cy="64.1" rx="3.6" ry="4" fill-opacity="0.5"/><ellipse cx="479.4" cy="138.5" rx="3.2" ry="3.8" fill-opacity="0.5"/><ellipse cx="388.5" cy="55.7" rx="3" ry="3.7" fill-opacity="0.8"/><ellipse cx="384" cy="28.1" rx="3.4" ry="3.3" fill-opacity="0.7"/><ellipse cx="466.6" cy="85.3" rx="3" ry="3.8" fill-opacity="0.6"/><ellipse cx="480.5" cy="82.9" rx="3.8" ry="4" fill-opacity="0.5"/><ellipse cx="499.7" cy="162.6" rx="3.5" ry="4.2" fill-opacity="0.6"/><ellipse cx="334.1" cy="52.3" rx="3.8" ry="3.3" fill-opacity="0.6"/><ellipse cx="503.6" cy="84.8" rx="3.3" ry="3.4" fill-opacity="1"/><ellipse cx="346.6" cy="124.9" rx="3.1" ry="3.4" fill-opacity="0.5"/><ellipse cx="468.7" cy="62.7" rx="3.3" ry="4.1" fill-opacity="0.6"/><ellipse cx="500.8" cy="147.1" rx="3.6" ry="3.8" fill-opacity="0.7"/><ellipse cx="354.4" cy="58.6" rx="3.1" ry="4.3" fill-opacity="0.6"/><ellipse cx="351.5" cy="26.4" rx="3.1" ry="3.6" fill-opacity="0.9"/><ellipse cx="471.9" cy="46.7" rx="3.2" ry="3.7" fill-opacity="0.6"/><ellipse cx="430.8" cy="93.4" rx="3.2" ry="3.5" fill-opacity="0.7"/><ellipse cx="356.7" cy="127.4" rx="3.7" ry="4" fill-opacity="0.6"/><ellipse cx="354.2" cy="88.8" rx="3.9" ry="3.7" fill-opacity="0.6"/><ellipse cx="386.6" cy="169.1" rx="3.4" ry="3.7" fill-opacity="0.7"/><ellipse cx="370.5" cy="84.2" rx="3.5" ry="4" fill-opacity="0.5"/><ellipse cx="481.8" cy="127" rx="3.4" ry="3.4" fill-opacity="0.9"/><ellipse cx="351.4" cy="187.1" rx="3.9" ry="4.1" fill-opacity="0.8"/><ellipse cx="467.7" cy="72.9" rx="3.9" ry="3.3" fill-opacity="0.8"/><ellipse cx="376" cy="120" rx="4" ry="3.3" fill-opacity="0.9"/><ellipse cx="398.3" cy="94.4" rx="3.9" ry="3.4" fill-opacity="1"/><ellipse cx="433.4" cy="165.9" rx="3.8" ry="4" fill-opacity="0.8"/><ellipse cx="491.2" cy="157.5" rx="3.6" ry="3.7" fill-opacity="0.9"/><ellipse cx="377.2" cy="48.8" rx="3.5" ry="3.4" fill-opacity="0.9"/><ellipse cx="461.9" cy="178.7" rx="3.5" ry="3.3" fill-opacity="0.5"/><ellipse cx="340.7" cy="182.5" rx="3.5" ry="3.6" fill-opacity="1"/><ellipse cx="375.2" cy="137.9" rx="3.1" ry="3.4" fill-opacity="0.7"/><ellipse cx="378.5" cy="158.5" rx="3.3" ry="4.3" fill-opacity="1"/><ellipse cx="437.2" cy="66.8" rx="3.9" ry="3.6" fill-opacity="0.6"/><ellipse cx="345.9" cy="55.5" rx="3.8" ry="4" fill-opacity="0.7"/><ellipse cx="492.7" cy="51.3" rx="3.4" ry="3.3" fill-opacity="0.9"/><ellipse cx="336.9" cy="62.6" rx="3.7" ry="4.1" fill-opacity="0.6"/><ellipse cx="411.1" cy="26.5" rx="3.6" ry="3.7" fill-opacity="0.5"/><ellipse cx="433" cy="38.8" rx="3.2" ry="3.6" fill-opacity="0.6"/><ellipse cx="396.7" cy="170.1" rx="3.7" ry="3.8" fill-opacity="0.9"/><ellipse cx="503.6" cy="129.6" rx="3.1" ry="4.2" fill-opacity="0.5"/><ellipse cx="337.1" cy="173.5" rx="3.5" ry="4.1" fill-opacity="1"/><ellipse cx="337.7" cy="126.1" rx="3.7" ry="3.5" fill-opacity="0.8"/><ellipse cx="417.4" cy="142.4" rx="3.1" ry="3.6" fill-opacity="0.9"/><ellipse cx="389.2" cy="188.9" rx="3.7" ry="4.3" fill-opacity="0.6"/><ellipse cx="461.5" cy="137.7" rx="3.3" ry="3.9" fill-opacity="0.5"/><ellipse cx="471.2" cy="174.3" rx="3.1" ry="3.6" fill-opacity="0.5"/><ellipse cx="394.9" cy="134.5" rx="3.3" ry="3.9" fill-opacity="0.8"/><ellipse cx="489.8" cy="166.7" rx="3.3" ry="4.2" fill-opacity="0.9"/><ellipse cx="406.2" cy="152.8" rx="3.3" ry="3.4" fill-opacity="0.9"/><ellipse cx="483.4" cy="115.1" rx="4" ry="3.9" fill-opacity="0.6"/><ellipse cx="442.1" cy="82.1" rx="3.9" ry="3.2" fill-opacity="0.8"/><ellipse cx="434.8" cy="121.3" rx="4" ry="3.8" fill-opacity="1"/><ellipse cx="461.2" cy="116.5" rx="3.4" ry="3.7" fill-opacity="0.7"/><ellipse cx="348.5" cy="145.8" rx="3.8" ry="3.8" fill-opacity="0.8"/><ellipse cx="417.2" cy="55.8" rx="3.4" ry="3.3" fill-opacity="0.6"/><ellipse cx="440.3" cy="175.2" rx="3.7" ry="4.1" fill-opacity="0.5"/><ellipse cx="378.3" cy="18" rx="3.4" ry="3.6" fill-opacity="0.7"/><ellipse cx="386.1" cy="133.3" rx="3.3" ry="3.3" fill-opacity="1"/><ellipse cx="490.7" cy="130.2" rx="3.9" ry="4" fill-opacity="0.6"/><ellipse cx="410.5" cy="170.3" rx="3.8" ry="4" fill-opacity="0.7"/><ellipse cx="357.6" cy="101.9" rx="3.7" ry="3.7" fill-opacity="0.7"/><ellipse cx="478.8" cy="162.8" rx="4" ry="3.9" fill-opacity="0.7"/><ellipse cx="442.3" cy="101.4" rx="3.4" ry="3.8" fill-opacity="0.6"/><ellipse cx="503.9" cy="94.3" rx="3.2" ry="3.6" fill-opacity="0.8"/><ellipse cx="485" cy="23.2" rx="3.7" ry="3.6" fill-opacity="0.9"/><ellipse cx="387.5" cy="152.9" rx="3.5" ry="3.9" fill-opacity="0.7"/><ellipse cx="337.3" cy="39.5" rx="3.6" ry="3.7" fill-opacity="0.9"/><ellipse cx="477.5" cy="57.1" rx="3.9" ry="3.5" fill-opacity="0.8"/><ellipse cx="452.4" cy="50.5" rx="3.8" ry="3.3" fill-opacity="1"/><ellipse cx="416.2" cy="46.9" rx="3.5" ry="3.2" fill-opacity="0.5"/><ellipse cx="381.1" cy="75.8" rx="3.7" ry="3.7" fill-opacity="0.7"/><ellipse cx="490.8" cy="31.1" rx="3.5" ry="3.7" fill-opacity="0.7"/><ellipse cx="399.2" cy="114.4" rx="3.9" ry="3.5" fill-opacity="1"/><ellipse cx="458.9" cy="157.6" rx="3.8" ry="3.6" fill-opacity="0.7"/><ellipse cx="445" cy="140.2" rx="3.3" ry="3.8" fill-opacity="0.7"/><ellipse cx="370.9" cy="171.7" rx="3.3" ry="3.6" fill-opacity="0.5"/><ellipse cx="426.9" cy="152.8" rx="3.3" ry="3.3" fill-opacity="0.7"/><ellipse cx="418.3" cy="20.9" rx="3.2" ry="3.5" fill-opacity="0.6"/><ellipse cx="474" cy="27.1" rx="3.5" ry="4.2" fill-opacity="0.8"/><ellipse cx="384.2" cy="142.1" rx="3.1" ry="3.9" fill-opacity="0.8"/><ellipse cx="387.9" cy="82" rx="3" ry="3.7" fill-opacity="0.5"/><ellipse cx="370" cy="163.2" rx="3.9" ry="4" fill-opacity="0.8"/><ellipse cx="501.5" cy="106.7" rx="3.2" ry="3.9" fill-opacity="0.6"/><ellipse cx="433.1" cy="50.8" rx="4" ry="4" fill-opacity="1"/><ellipse cx="426.7" cy="103" rx="3.9" ry="3.5" fill-opacity="1"/><ellipse cx="438.7" cy="20.8" rx="3.9" ry="3.7" fill-opacity="0.8"/><ellipse cx="380.6" cy="97.9" rx="3.7" ry="3.8" fill-opacity="0.8"/><ellipse cx="367.1" cy="122.9" rx="3.3" ry="3.9" fill-opacity="0.7"/><ellipse cx="468.8" cy="19.9" rx="3.8" ry="4" fill-opacity="0.6"/><ellipse cx="452.9" cy="71.7" rx="3.3" ry="3.5" fill-opacity="0.7"/><ellipse cx="395.5" cy="123.2" rx="3.3" ry="3.5" fill-opacity="1"/><ellipse cx="425.6" cy="43.6" rx="3.9" ry="3.9" fill-opacity="0.7"/><ellipse cx="490.2" cy="70.6" rx="3.9" ry="3.8" fill-opacity="1"/><ellipse cx="371.7" cy="188.7" rx="3.5" ry="3.4" fill-opacity="0.5"/><ellipse cx="470.7" cy="37.8" rx="3.3" ry="3.8" fill-opacity="0.9"/><ellipse cx="403.7" cy="134.5" rx="3.1" ry="3.3" fill-opacity="0.7"/><ellipse cx="452.1" cy="173.7" rx="3.4" ry="3.5" fill-opacity="0.9"/><ellipse cx="501.5" cy="36" rx="3.6" ry="4" fill-opacity="0.8"/><ellipse cx="366.7" cy="28.2" rx="3.9" ry="3.4" fill-opacity="0.5"/><ellipse cx="479.4" cy="187.3" rx="3.4" ry="4.2" fill-opacity="0.9"/><ellipse cx="454.2" cy="148.7" rx="3.3" ry="4.1" fill-opacity="0.5"/><ellipse cx="335.8" cy="77.5" rx="3.2" ry="4.3" fill-opacity="0.8"/><ellipse cx="426.2" cy="83.4" rx="3.3" ry="3.8" fill-opacity="1"/><ellipse cx="503.6" cy="19.9" rx="3.7" ry="4" fill-opacity="0.7"/><ellipse cx="397.2" cy="65.4" rx="3.6" ry="4.2" fill-opacity="0.6"/><ellipse cx="447.3" cy="113" rx="3.3" ry="3.2" fill-opacity="0.8"/><ellipse cx="346.7" cy="172.7" rx="3.5" ry="3.9" fill-opacity="0.7"/><ellipse cx="408.3" cy="98.6" rx="3.1" ry="4.1" fill-opacity="0.9"/><ellipse cx="424.5" cy="178.1" rx="3.5" ry="3.2" fill-opacity="0.9"/><ellipse cx="468.6" cy="107.8" rx="3.4" ry="3.7" fill-opacity="0.5"/><ellipse cx="461" cy="57.2" rx="3.3" ry="3.3" fill-opacity="0.8"/><ellipse cx="469.7" cy="124.1" rx="3.3" ry="3.2" fill-opacity="0.5"/><ellipse cx="441.8" cy="33.7" rx="3" ry="4.3" fill-opacity="0.9"/><ellipse cx="370.4" cy="75.5" rx="3.9" ry="3.6" fill-opacity="0.9"/><ellipse cx="346.9" cy="36.7" rx="3.3" ry="3.7" fill-opacity="1"/><ellipse cx="447.1" cy="187.1" rx="3.2" ry="3.8" fill-opacity="1"/><ellipse cx="390.3" cy="110.9" rx="3.7" ry="3.5" fill-opacity="0.9"/><ellipse cx="408" cy="79.9" rx="3.1" ry="3.9" fill-opacity="0.7"/><ellipse cx="370.9" cy="130.5" rx="3.3" ry="3.3" fill-opacity="1"/><ellipse cx="382.9" cy="40.7" rx="3.5" ry="4.3" fill-opacity="0.8"/><ellipse cx="397.4" cy="36.3" rx="3.1" ry="3.3" fill-opacity="0.9"/><ellipse cx="492.9" cy="178.6" rx="3" ry="3.9" fill-opacity="1"/><ellipse cx="397.2" cy="78.9" rx="3.1" ry="4.1" fill-opacity="0.8"/><ellipse cx="367.7" cy="113.5" rx="3.2" ry="3.9" fill-opacity="0.8"/><ellipse cx="337.8" cy="105.2" rx="3.9" ry="3.6" fill-opacity="0.5"/><ellipse cx="446.3" cy="58.5" rx="3.4" ry="4.1" fill-opacity="0.6"/><ellipse cx="492.3" cy="87" rx="3.8" ry="3.7" fill-opacity="0.6"/><ellipse cx="462.2" cy="187.4" rx="3.2" ry="3.7" fill-opacity="0.9"/><ellipse cx="399" cy="45" rx="3.5" ry="3.4" fill-opacity="0.7"/><ellipse cx="475.4" cy="99" rx="3.7" ry="3.6" fill-opacity="0.9"/><ellipse cx="484.4" cy="105.3" rx="3.8" ry="3.4" fill-opacity="0.6"/><ellipse cx="380.1" cy="108.5" rx="3.9" ry="3.9" fill-opacity="0.6"/><ellipse cx="334.2" cy="158.1" rx="3.2" ry="3.7" fill-opacity="0.6"/><ellipse cx="458" cy="32.8" rx="3.3" ry="3.4" fill-opacity="0.8"/><ellipse cx="417.1" cy="97.1" rx="3.8" ry="3.9" fill-opacity="0.9"/><ellipse cx="499.3" cy="117.5" rx="3.9" ry="3.4" fill-opacity="0.8"/><ellipse cx="387.9" cy="69.8" rx="3.2" ry="4.1" fill-opacity="0.8"/><ellipse cx="413.9" cy="183.3" rx="3.8" ry="3.2" fill-opacity="0.9"/><ellipse cx="358.4" cy="32.3" rx="3.6" ry="4.3" fill-opacity="0.7"/><ellipse cx="405.3" cy="18.7" rx="3.3" ry="3.5" fill-opacity="0.6"/><ellipse cx="395" cy="102.6" rx="3.5" ry="4.1" fill-opacity="0.9"/><ellipse cx="358.5" cy="139.4" rx="3" ry="3.4" fill-opacity="0.7"/><ellipse cx="442.5" cy="50.2" rx="3.8" ry="3.9" fill-opacity="0.7"/><ellipse cx="433.7" cy="136.6" rx="3.7" ry="3.6" fill-opacity="0.8"/><ellipse cx="390.9" cy="176.7" rx="3.9" ry="3.4" fill-opacity="0.9"/><ellipse cx="357.5" cy="172.4" rx="3.6" ry="4" fill-opacity="0.9"/><ellipse cx="491.3" cy="187.6" rx="3.4" ry="4.3" fill-opacity="0.6"/><ellipse cx="423.9" cy="61.6" rx="3.9" ry="4.1" fill-opacity="0.8"/><ellipse cx="450.1" cy="41" rx="3.2" ry="3.6" fill-opacity="1"/><ellipse cx="465.1" cy="146" rx="3.8" ry="3.8" fill-opacity="0.9"/><ellipse cx="343" cy="136.2" rx="4" ry="3.2" fill-opacity="0.9"/><ellipse cx="376.2" cy="67.8" rx="3.9" ry="3.6" fill-opacity="0.8"/><ellipse cx="421.5" cy="162.3" rx="3.8" ry="4" fill-opacity="0.6"/><ellipse cx="432.4" cy="110" rx="3" ry="3.6" fill-opacity="0.8"/><ellipse cx="359.3" cy="69.8" rx="3.6" ry="4.1" fill-opacity="0.8"/><ellipse cx="341.3" cy="70.4" rx="3.8" ry="3.6" fill-opacity="0.5"/><ellipse cx="344.6" cy="87" rx="3.5" ry="3.8" fill-opacity="0.6"/><ellipse cx="397" cy="53.4" rx="3.2" ry="3.8" fill-opacity="0.8"/><ellipse cx="496" cy="78.2" rx="3.6" ry="4.1" fill-opacity="0.8"/><ellipse cx="359.5" cy="51.4" rx="3" ry="4" fill-opacity="0.9"/><ellipse cx="502.8" cy="67.6" rx="3.2" ry="4" fill-opacity="0.7"/><ellipse cx="375.5" cy="32.1" rx="3.5" ry="3.7" fill-opacity="0.6"/><ellipse cx="405.1" cy="87.9" rx="3.1" ry="4.2" fill-opacity="0.5"/><ellipse cx="456.3" cy="123.8" rx="3.8" ry="4.1" fill-opacity="0.5"/><ellipse cx="453" cy="88.5" rx="3.4" ry="3.7" fill-opacity="0.8"/><ellipse cx="391.1" cy="20.6" rx="3.1" ry="4.2" fill-opacity="0.6"/><ellipse cx="418.5" cy="36.8" rx="3.5" ry="3.6" fill-opacity="0.5"/><ellipse cx="381.9" cy="178.4" rx="3.6" ry="4" fill-opacity="0.6"/><ellipse cx="396.1" cy="146.4" rx="3.9" ry="3.8" fill-opacity="0.8"/><ellipse cx="403.8" cy="71.6" rx="4" ry="4.1" fill-opacity="0.7"/><ellipse cx="483.7" cy="49.9" rx="3.1" ry="3.6" fill-opacity="0.8"/><ellipse cx="401.2" cy="162.9" rx="3.8" ry="3.4" fill-opacity="0.6"/><ellipse cx="488.9" cy="59.5" rx="3.7" ry="3.2" fill-opacity="1"/><ellipse cx="349.3" cy="78.9" rx="3.5" ry="3.8" fill-opacity="0.8"/><ellipse cx="497.4" cy="171" rx="3.9" ry="3.9" fill-opacity="0.7"/><ellipse cx="404.3" cy="121.9" rx="3.9" ry="3.9" fill-opacity="0.9"/><ellipse cx="445.2" cy="162.6" rx="3.1" ry="3.7" fill-opacity="0.6"/><ellipse cx="463.7" cy="100.3" rx="3.1" ry="3.3" fill-opacity="0.9"/><ellipse cx="335.5" cy="86.3" rx="3.3" ry="3.5" fill-opacity="0.6"/><ellipse cx="477.9" cy="72.8" rx="3.7" ry="3.8" fill-opacity="0.6"/><ellipse cx="430.8" cy="184.8" rx="3.5" ry="3.9" fill-opacity="0.7"/><ellipse cx="431.9" cy="76.3" rx="3.3" ry="3.4" fill-opacity="1"/><ellipse cx="339.1" cy="114.8" rx="3.8" ry="4.2" fill-opacity="0.7"/><ellipse cx="336.6" cy="149.2" rx="3.6" ry="3.5" fill-opacity="0.7"/><ellipse cx="405.7" cy="187.2" rx="3.5" ry="4.2" fill-opacity="1"/><ellipse cx="399.8" cy="27.3" rx="3.4" ry="3.9" fill-opacity="0.9"/><ellipse cx="471.2" cy="184.3" rx="3.3" ry="3.3" fill-opacity="0.8"/><ellipse cx="422" cy="186.3" rx="3.1" ry="3.9" fill-opacity="0.8"/><ellipse cx="340.1" cy="165.2" rx="3.5" ry="4" fill-opacity="0.6"/><ellipse cx="447.4" cy="131.7" rx="3.6" ry="3.2" fill-opacity="0.8"/><ellipse cx="373.1" cy="149.3" rx="3.6" ry="4.1" fill-opacity="0.6"/><ellipse cx="487.5" cy="146.4" rx="3.3" ry="3.3" fill-opacity="0.8"/><ellipse cx="495.8" cy="23.6" rx="3.6" ry="3.8" fill-opacity="0.5"/><ellipse cx="462.1" cy="165.8" rx="3.3" ry="3.5" fill-opacity="0.9"/><ellipse cx="334.2" cy="16.2" rx="3.2" ry="3.6" fill-opacity="0.5"/><ellipse cx="358.2" cy="110.5" rx="3.5" ry="3.4" fill-opacity="0.7"/><ellipse cx="350.5" cy="45.3" rx="3.2" ry="4" fill-opacity="0.8"/><ellipse cx="470.5" cy="158.8" rx="3.3" ry="4" fill-opacity="0.6"/><ellipse cx="503" cy="46.8" rx="3.5" ry="3.4" fill-opacity="0.6"/><ellipse cx="412.7" cy="134.6" rx="3" ry="3.2" fill-opacity="0.7"/><ellipse cx="398.9" cy="180.1" rx="3.8" ry="4.1" fill-opacity="0.6"/><ellipse cx="359.4" cy="184" rx="3.1" ry="4" fill-opacity="0.6"/><ellipse cx="352.8" cy="16.6" rx="3.8" ry="3.9" fill-opacity="0.9"/><ellipse cx="386.3" cy="121" rx="3.6" ry="4" fill-opacity="0.6"/><ellipse cx="435.4" cy="145.9" rx="3.1" ry="4.1" fill-opacity="1"/><ellipse cx="403.8" cy="58.9" rx="3.9" ry="3.8" fill-opacity="0.9"/><ellipse cx="461.8" cy="43" rx="3.9" ry="4.1" fill-opacity="0.5"/><ellipse cx="439" cy="90.3" rx="3.1" ry="3.7" fill-opacity="0.5"/><ellipse cx="506.6" cy="28.3" rx="3.4" ry="3.6" fill-opacity="0.6"/><ellipse cx="506.1" cy="139.6" rx="3.1" ry="3.9" fill-opacity="1"/><ellipse cx="418.5" cy="107" rx="3.4" ry="3.4" fill-opacity="0.7"/><ellipse cx="460.2" cy="77.4" rx="3.8" ry="4.3" fill-opacity="0.8"/><ellipse cx="491.6" cy="16.1" rx="3.1" ry="3.7" fill-opacity="1"/><ellipse cx="414.9" cy="154.3" rx="3.7" ry="3.3" fill-opacity="0.6"/><ellipse cx="403.6" cy="105.9" rx="3.4" ry="4.1" fill-opacity="0.7"/><ellipse cx="377.5" cy="89.4" rx="3.3" ry="3.7" fill-opacity="0.7"/><ellipse cx="404.6" cy="144.1" rx="3.5" ry="4.3" fill-opacity="0.6"/><ellipse cx="479.8" cy="91.4" rx="3.7" ry="3.6" fill-opacity="0.9"/><ellipse cx="362.3" cy="78.2" rx="3.1" ry="3.8" fill-opacity="0.9"/><ellipse cx="415.4" cy="124.9" rx="3.2" ry="3.4" fill-opacity="0.6"/><ellipse cx="367.5" cy="67.3" rx="3.6" ry="4.1" fill-opacity="0.6"/><ellipse cx="432.2" cy="59.4" rx="3.9" ry="3.8" fill-opacity="0.7"/><ellipse cx="380.6" cy="59.7" rx="3.9" ry="4.2" fill-opacity="0.7"/><ellipse cx="429.1" cy="18.5" rx="3.1" ry="3.9" fill-opacity="0.6"/><ellipse cx="491.1" cy="120.6" rx="3.8" ry="3.8" fill-opacity="0.7"/><ellipse cx="506.3" cy="173.1" rx="3.1" ry="3.9" fill-opacity="1"/><ellipse cx="334" cy="138.5" rx="4" ry="3.5" fill-opacity="0.8"/><ellipse cx="474.5" cy="114.1" rx="3.6" ry="4.3" fill-opacity="0.9"/><ellipse cx="424.6" cy="71.1" rx="4" ry="3.9" fill-opacity="0.5"/><ellipse cx="470.6" cy="138.5" rx="3.5" ry="3.9" fill-opacity="0.7"/><ellipse cx="390.2" cy="91.9" rx="3.2" ry="3.8" fill-opacity="0.8"/><ellipse cx="406.9" cy="49.1" rx="3.1" ry="4" fill-opacity="0.7"/><ellipse cx="380.3" cy="188.3" rx="3.1" ry="3.2" fill-opacity="0.7"/><ellipse cx="481.2" cy="33.5" rx="3.6" ry="3.3" fill-opacity="0.7"/><ellipse cx="347.9" cy="97.7" rx="3.3" ry="3.6" fill-opacity="1"/><ellipse cx="424.2" cy="135.3" rx="4" ry="4.2" fill-opacity="1"/><ellipse cx="447.1" cy="16.7" rx="3.3" ry="3.9" fill-opacity="0.8"/><ellipse cx="349.1" cy="107" rx="3.8" ry="4.2" fill-opacity="1"/><ellipse cx="395.1" cy="156.9" rx="4" ry="3.9" fill-opacity="0.7"/><ellipse cx="334.1" cy="189" rx="3.1" ry="4" fill-opacity="0.9"/><ellipse cx="341.5" cy="47.3" rx="3.7" ry="4" fill-opacity="0.8"/><ellipse cx="505.1" cy="76.4" rx="3.9" ry="3.9" fill-opacity="0.7"/><ellipse cx="343.5" cy="16.4" rx="3.8" ry="3.8" fill-opacity="0.8"/><ellipse cx="479.4" cy="16.3" rx="3.6" ry="3.3" fill-opacity="0.7"/><ellipse cx="459.6" cy="65.6" rx="3.4" ry="4.3" fill-opacity="0.7"/><ellipse cx="459.9" cy="16.1" rx="3.4" ry="3.9" fill-opacity="0.8"/><ellipse cx="491.6" cy="110.4" rx="3.4" ry="3.2" fill-opacity="0.8"/><ellipse cx="481.2" cy="64.8" rx="3.5" ry="4.1" fill-opacity="0.5"/><ellipse cx="433.8" cy="29.3" rx="3.8" ry="3.3" fill-opacity="0.7"/><ellipse cx="369.8" cy="20.2" rx="3.9" ry="3.2" fill-opacity="0.6"/><ellipse cx="442.8" cy="73.4" rx="3.5" ry="4.3" fill-opacity="0.6"/><ellipse cx="465.6" cy="28.8" rx="3.2" ry="3.9" fill-opacity="1"/><ellipse cx="479.2" cy="42" rx="3.6" ry="4.1" fill-opacity="0.9"/><ellipse cx="453.4" cy="165.2" rx="3.8" ry="3.9" fill-opacity="0.9"/><ellipse cx="420.1" cy="170.9" rx="3.2" ry="3.8" fill-opacity="1"/><ellipse cx="461" cy="92" rx="3.4" ry="3.7" fill-opacity="0.9"/><ellipse cx="434.4" cy="157.3" rx="3.8" ry="3.4" fill-opacity="1"/><ellipse cx="351.1" cy="165.3" rx="3.2" ry="3.9" fill-opacity="0.6"/><ellipse cx="358.3" cy="119" rx="3.6" ry="4.1" fill-opacity="0.9"/></g></g><clipPath id="gclip"><path d="M338,20 L403,20 L401.5,30 L399.9,38.9 L396.2,52 L391.9,60.8 L381.7,66.6 L370,73.9 L361.3,81.1 L352.6,88.4 L343.8,92.8 L338,94.2 Z"/></clipPath><path d="M403,20 L401.5,30 L399.9,38.9 L396.2,52 L391.9,60.8 L381.7,66.6 L370,73.9 L361.3,81.1 L352.6,88.4 L343.8,92.8 L338,94.2" fill="none" stroke="#080006" stroke-width="9" stroke-opacity="0.85" filter="url(#bl1)"/><path d="M338,20 L403,20 L401.5,30 L399.9,38.9 L396.2,52 L391.9,60.8 L381.7,66.6 L370,73.9 L361.3,81.1 L352.6,88.4 L343.8,92.8 L338,94.2 Z" fill="#2cb42c" filter="url(#bl3)"/><g clip-path="url(#gclip)"><g filter="url(#bl3)"><g fill="#208034" stroke="#44d044" stroke-width="1.3"><ellipse cx="371" cy="63.6" rx="5.1" ry="6.4"/><ellipse cx="387.1" cy="57.5" rx="5.2" ry="5.9"/><ellipse cx="354.3" cy="66.5" rx="5.7" ry="6.2"/><ellipse cx="374.4" cy="46.3" rx="5.7" ry="6.5"/><ellipse cx="359.4" cy="23.4" rx="5.6" ry="5.9"/><ellipse cx="345.8" cy="64.9" rx="5.7" ry="6.2"/><ellipse cx="364.3" cy="51.7" rx="5.4" ry="6.7"/><ellipse cx="375.1" cy="89.1" rx="5.7" ry="6.2"/><ellipse cx="409.9" cy="91.5" rx="5.5" ry="6.6"/><ellipse cx="364.5" cy="39.8" rx="5.6" ry="6.4"/><ellipse cx="401.5" cy="94.3" rx="5.8" ry="5.9"/><ellipse cx="332.6" cy="29.5" rx="5.4" ry="6.1"/><ellipse cx="395" cy="35.7" rx="5.3" ry="6.8"/><ellipse cx="389.5" cy="45.5" rx="5.5" ry="6"/><ellipse cx="334.7" cy="59.3" rx="5.4" ry="6.4"/><ellipse cx="352.4" cy="54.8" rx="5.7" ry="6.1"/><ellipse cx="343.1" cy="91.9" rx="5.2" ry="6.3"/><ellipse cx="409.6" cy="50.6" rx="5.4" ry="6.5"/><ellipse cx="350.9" cy="15.6" rx="5.6" ry="6.6"/><ellipse cx="352.5" cy="88.4" rx="5.4" ry="6.2"/><ellipse cx="403.8" cy="38.8" rx="5.4" ry="5.9"/><ellipse cx="381.5" cy="82.3" rx="5.3" ry="5.8"/><ellipse cx="382" cy="96.5" rx="5.8" ry="5.9"/><ellipse cx="363.9" cy="95.7" rx="5.6" ry="5.8"/><ellipse cx="337.7" cy="75.4" rx="5.6" ry="6.1"/><ellipse cx="385.1" cy="34.3" rx="5.8" ry="6.2"/><ellipse cx="390.7" cy="25.6" rx="5.4" ry="6.7"/><ellipse cx="340.4" cy="47.3" rx="5.4" ry="5.9"/><ellipse cx="348.7" cy="43.6" rx="5.2" ry="5.9"/><ellipse cx="370.5" cy="16" rx="5.5" ry="6.2"/><ellipse cx="404.7" cy="27.8" rx="5.4" ry="6.1"/><ellipse cx="401.1" cy="52.6" rx="5.7" ry="6.7"/><ellipse cx="406" cy="67.7" rx="5.7" ry="6"/><ellipse cx="369.8" cy="75.9" rx="5.2" ry="6.6"/><ellipse cx="338.3" cy="36.1" rx="5.2" ry="6.7"/><ellipse cx="399.3" cy="14.3" rx="5.1" ry="6.6"/><ellipse cx="402.6" cy="82.2" rx="5" ry="6.3"/><ellipse cx="409.6" cy="18.1" rx="5.8" ry="6.2"/><ellipse cx="353.2" cy="33" rx="5.7" ry="6.2"/><ellipse cx="388.9" cy="73.5" rx="5.2" ry="6.5"/><ellipse cx="365.8" cy="86" rx="5.5" ry="6.7"/><ellipse cx="332.6" cy="83.7" rx="5.2" ry="6.8"/><ellipse cx="372" cy="33.8" rx="5.8" ry="6.5"/><ellipse cx="398.6" cy="62.6" rx="5.5" ry="6.6"/><ellipse cx="382.8" cy="67" rx="5.8" ry="6.5"/><ellipse cx="393" cy="87.9" rx="5.2" ry="6.7"/><ellipse cx="350.6" cy="76" rx="5.5" ry="5.9"/><ellipse cx="341.7" cy="19.8" rx="5" ry="6.4"/><ellipse cx="332.8" cy="18.4" rx="5" ry="6.3"/><ellipse cx="389.4" cy="14.4" rx="5.1" ry="6"/><ellipse cx="377.7" cy="26.4" rx="5.7" ry="6.2"/><ellipse cx="394.2" cy="98.4" rx="5.2" ry="6.3"/><ellipse cx="336.8" cy="99.1" rx="5.2" ry="6.2"/><ellipse cx="361.6" cy="75" rx="5.4" ry="6.1"/><ellipse cx="356.7" cy="44.1" rx="5.4" ry="6.2"/><ellipse cx="349.8" cy="97.2" rx="5.5" ry="6.5"/><ellipse cx="345.9" cy="28.2" rx="5.6" ry="5.9"/><ellipse cx="332.4" cy="43.6" rx="5.6" ry="5.9"/><ellipse cx="363" cy="63.5" rx="5.4" ry="6.8"/><ellipse cx="379.4" cy="54.8" rx="5.3" ry="6.8"/><ellipse cx="397.2" cy="73.8" rx="5.2" ry="6.5"/><ellipse cx="381" cy="17" rx="5.5" ry="6.2"/><ellipse cx="374.2" cy="99.5" rx="5.8" ry="5.8"/><ellipse cx="362" cy="14.2" rx="5.1" ry="6"/><ellipse cx="409.6" cy="76.6" rx="5.2" ry="6.1"/><ellipse cx="343.9" cy="82.3" rx="5.3" ry="6.5"/></g><g fill="#1c22b0"><ellipse cx="371.2" cy="63.9" rx="2.5" ry="4.3" fill-opacity="0.9"/><ellipse cx="387" cy="57.4" rx="2.6" ry="4" fill-opacity="0.8"/><ellipse cx="354.7" cy="66.6" rx="2.9" ry="4.2" fill-opacity="0.8"/><ellipse cx="374.9" cy="46.4" rx="2.8" ry="4.4" fill-opacity="0.5"/><ellipse cx="359.8" cy="23.7" rx="2.8" ry="4" fill-opacity="0.5"/><ellipse cx="345.3" cy="64.6" rx="2.9" ry="4.2" fill-opacity="0.5"/><ellipse cx="363.9" cy="52.2" rx="2.7" ry="4.5" fill-opacity="0.7"/><ellipse cx="375.3" cy="89.4" rx="2.9" ry="4.2" fill-opacity="0.6"/><ellipse cx="409.6" cy="91.4" rx="2.7" ry="4.5" fill-opacity="0.5"/><ellipse cx="364" cy="39.6" rx="2.8" ry="4.3" fill-opacity="0.8"/><ellipse cx="402" cy="94.8" rx="2.9" ry="4" fill-opacity="0.5"/><ellipse cx="332.3" cy="29.6" rx="2.7" ry="4.1" fill-opacity="0.9"/><ellipse cx="394.9" cy="35.4" rx="2.7" ry="4.6" fill-opacity="0.5"/><ellipse cx="389.9" cy="45.5" rx="2.7" ry="4.1" fill-opacity="0.6"/><ellipse cx="334.1" cy="58.9" rx="2.7" ry="4.3" fill-opacity="0.9"/><ellipse cx="352.6" cy="54.3" rx="2.8" ry="4.1" fill-opacity="0.9"/><ellipse cx="342.6" cy="91.8" rx="2.6" ry="4.3" fill-opacity="0.7"/><ellipse cx="410" cy="51.2" rx="2.7" ry="4.4" fill-opacity="0.5"/><ellipse cx="350.4" cy="15.5" rx="2.8" ry="4.5" fill-opacity="0.5"/><ellipse cx="353.1" cy="88" rx="2.7" ry="4.2" fill-opacity="0.7"/><ellipse cx="403.7" cy="39.2" rx="2.7" ry="4" fill-opacity="0.8"/><ellipse cx="381.8" cy="82.3" rx="2.6" ry="4" fill-opacity="0.6"/><ellipse cx="382.4" cy="96.3" rx="2.9" ry="4" fill-opacity="0.5"/><ellipse cx="364.1" cy="95.8" rx="2.8" ry="4" fill-opacity="0.8"/><ellipse cx="338.1" cy="75.4" rx="2.8" ry="4.1" fill-opacity="0.8"/><ellipse cx="384.6" cy="34.4" rx="2.9" ry="4.2" fill-opacity="0.6"/><ellipse cx="391.1" cy="25.5" rx="2.7" ry="4.6" fill-opacity="0.5"/><ellipse cx="340.1" cy="47.7" rx="2.7" ry="4" fill-opacity="0.7"/><ellipse cx="349.1" cy="43.8" rx="2.6" ry="4" fill-opacity="0.6"/><ellipse cx="370" cy="15.4" rx="2.7" ry="4.2" fill-opacity="0.8"/><ellipse cx="404.2" cy="27.3" rx="2.7" ry="4.1" fill-opacity="0.5"/><ellipse cx="401.2" cy="53.1" rx="2.8" ry="4.5" fill-opacity="0.7"/><ellipse cx="406" cy="68.1" rx="2.8" ry="4.1" fill-opacity="0.5"/><ellipse cx="369.4" cy="76.1" rx="2.6" ry="4.5" fill-opacity="0.8"/><ellipse cx="338.5" cy="36.6" rx="2.6" ry="4.5" fill-opacity="0.5"/><ellipse cx="399.5" cy="14.6" rx="2.6" ry="4.5" fill-opacity="0.8"/><ellipse cx="402.4" cy="81.7" rx="2.5" ry="4.3" fill-opacity="0.6"/><ellipse cx="409" cy="18.4" rx="2.9" ry="4.2" fill-opacity="0.6"/><ellipse cx="352.7" cy="33.2" rx="2.8" ry="4.2" fill-opacity="0.5"/><ellipse cx="388.8" cy="73.8" rx="2.6" ry="4.4" fill-opacity="0.6"/><ellipse cx="366.2" cy="85.7" rx="2.8" ry="4.5" fill-opacity="0.7"/><ellipse cx="332.2" cy="83.9" rx="2.6" ry="4.6" fill-opacity="0.8"/><ellipse cx="372.1" cy="34.1" rx="2.9" ry="4.4" fill-opacity="0.5"/><ellipse cx="398.7" cy="62.1" rx="2.7" ry="4.5" fill-opacity="0.7"/><ellipse cx="382.4" cy="67" rx="2.9" ry="4.4" fill-opacity="0.9"/><ellipse cx="392.9" cy="88.4" rx="2.6" ry="4.6" fill-opacity="0.6"/><ellipse cx="350.3" cy="76.2" rx="2.7" ry="4" fill-opacity="0.5"/><ellipse cx="341.2" cy="20.2" rx="2.5" ry="4.4" fill-opacity="0.8"/><ellipse cx="332.3" cy="18.1" rx="2.5" ry="4.3" fill-opacity="0.9"/><ellipse cx="389.1" cy="13.9" rx="2.6" ry="4" fill-opacity="0.8"/><ellipse cx="377.4" cy="26.1" rx="2.9" ry="4.2" fill-opacity="0.5"/><ellipse cx="394.3" cy="98.9" rx="2.6" ry="4.3" fill-opacity="0.7"/><ellipse cx="336.6" cy="99.6" rx="2.6" ry="4.2" fill-opacity="0.6"/><ellipse cx="361.2" cy="75.2" rx="2.7" ry="4.2" fill-opacity="0.5"/><ellipse cx="356.4" cy="43.5" rx="2.7" ry="4.2" fill-opacity="0.7"/><ellipse cx="349.8" cy="97.5" rx="2.7" ry="4.4" fill-opacity="0.6"/><ellipse cx="346.3" cy="28.5" rx="2.8" ry="4" fill-opacity="0.7"/><ellipse cx="332.2" cy="43.3" rx="2.8" ry="4" fill-opacity="0.7"/><ellipse cx="363.3" cy="63.2" rx="2.7" ry="4.6" fill-opacity="0.9"/><ellipse cx="379.6" cy="54.8" rx="2.6" ry="4.6" fill-opacity="0.8"/><ellipse cx="397.3" cy="73.3" rx="2.6" ry="4.4" fill-opacity="0.9"/><ellipse cx="381" cy="17.5" rx="2.8" ry="4.2" fill-opacity="0.8"/><ellipse cx="374.8" cy="99.7" rx="2.9" ry="4" fill-opacity="0.7"/><ellipse cx="362.3" cy="14.4" rx="2.6" ry="4.1" fill-opacity="0.8"/><ellipse cx="409.3" cy="77" rx="2.6" ry="4.2" fill-opacity="0.6"/><ellipse cx="344.1" cy="81.9" rx="2.6" ry="4.4" fill-opacity="0.5"/></g></g></g><rect x="338" y="20" width="66" height="2.5" fill="#062010" opacity="0.7"/><path d="M403,20 L401.5,30 L399.9,38.9 L396.2,52 L391.9,60.8 L381.7,66.6 L370,73.9 L361.3,81.1 L352.6,88.4 L343.8,92.8 L338,94.2" fill="none" stroke="#3ad03a" stroke-width="2" filter="url(#bl3)" transform="translate(-1,-1)"/></g><g style="font-family:'Liberation Sans',Arial,sans-serif;font-style:italic"><text x="349" y="35.8" font-size="10" textLength="75" lengthAdjust="spacingAndGlyphs"><tspan fill="#1a1ac0" stroke="#1a1ac0" stroke-width="0.35">DAPI </tspan><tspan fill="#58d058" stroke="#58d058" stroke-width="0.3">CK </tspan><tspan fill="#ff2020" stroke="#ff2020" stroke-width="0.35">CD200R</tspan></text></g><rect x="456.4" y="150.9" width="45.4" height="33.1" fill="#e6e6f6" stroke="#5a3a9a" stroke-width="0.7"/><rect x="463" y="157.4" width="20.5" height="20.4" fill="#0e0616"/><circle cx="473.5" cy="167.6" r="9" fill="#1e0a30"/><ellipse cx="467" cy="163.5" rx="1.6" ry="5" transform="rotate(12 467 163.5)" fill="#1c5a28"/><rect x="465.4" y="166.8" width="4.8" height="4.2" fill="none" stroke="#c0205a" stroke-width="0.7"/><text x="458.3" y="155.7" font-size="4" fill="#303080" textLength="30" lengthAdjust="spacingAndGlyphs" style="font-family:'Liberation Sans',Arial,sans-serif;font-style:italic">Zoom ratio 0.98%</text><text x="496" y="155.8" font-size="4" fill="#c04040" style="font-family:'Liberation Sans',Arial,sans-serif">x</text>
<g stroke="#d9d9d9" stroke-width="1.1"><line x1="63.3" y1="314.8" x2="226.4" y2="314.8"/><line x1="63.3" y1="303.1" x2="226.4" y2="303.1"/><line x1="63.3" y1="291.3" x2="226.4" y2="291.3"/><line x1="63.3" y1="279.5" x2="226.4" y2="279.5"/><line x1="63.3" y1="267.8" x2="226.4" y2="267.8"/><line x1="63.3" y1="256" x2="226.4" y2="256"/><line x1="63.3" y1="244.2" x2="226.4" y2="244.2"/><line x1="63.3" y1="232.5" x2="226.4" y2="232.5"/><line x1="63.3" y1="220.7" x2="226.4" y2="220.7"/><line x1="117.7" y1="220.7" x2="117.7" y2="326.6"/><line x1="172" y1="220.7" x2="172" y2="326.6"/><line x1="226.4" y1="220.7" x2="226.4" y2="326.6"/><line x1="63.3" y1="220.7" x2="63.3" y2="326.6"/><line x1="63.3" y1="326.6" x2="226.4" y2="326.6"/></g>
<line x1="64" y1="307.7" x2="169.5" y2="235.9" stroke="#595959" stroke-width="1.9" stroke-linecap="round" stroke-dasharray="0.3 2.65"/>
<g fill="#595959"><circle cx="93.7" cy="274.7" r="2.9"/><circle cx="89.9" cy="277" r="2.9"/><circle cx="90.9" cy="278.5" r="2.9"/><circle cx="86.2" cy="283.4" r="2.9"/><circle cx="89" cy="282" r="2.9"/><circle cx="90.2" cy="281.7" r="2.9"/><circle cx="92.9" cy="281.6" r="2.9"/><circle cx="96.7" cy="283.2" r="2.9"/><circle cx="83.3" cy="285.8" r="2.9"/><circle cx="84.4" cy="285.8" r="2.9"/><circle cx="89.1" cy="285.4" r="2.9"/><circle cx="90.5" cy="285.2" r="2.9"/><circle cx="92.8" cy="284" r="2.9"/><circle cx="97.4" cy="285.4" r="2.9"/><circle cx="99.3" cy="286.1" r="2.9"/><circle cx="101.9" cy="285.9" r="2.9"/><circle cx="74.2" cy="288.8" r="2.9"/><circle cx="76.6" cy="288.8" r="2.9"/><circle cx="79.6" cy="288" r="2.9"/><circle cx="82.5" cy="286.8" r="2.9"/><circle cx="85.1" cy="287.2" r="2.9"/><circle cx="86.9" cy="288.6" r="2.9"/><circle cx="90.1" cy="287.8" r="2.9"/><circle cx="94.1" cy="288" r="2.9"/><circle cx="96" cy="287.9" r="2.9"/><circle cx="99.3" cy="288.5" r="2.9"/><circle cx="101.1" cy="288" r="2.9"/><circle cx="104.2" cy="287.4" r="2.9"/><circle cx="68.6" cy="290.7" r="2.9"/><circle cx="71.2" cy="291.1" r="2.9"/><circle cx="73.9" cy="290.8" r="2.9"/><circle cx="76.8" cy="291.7" r="2.9"/><circle cx="80" cy="291.5" r="2.9"/><circle cx="83.4" cy="290.2" r="2.9"/><circle cx="85.3" cy="291.7" r="2.9"/><circle cx="88.7" cy="289.9" r="2.9"/><circle cx="90" cy="290.6" r="2.9"/><circle cx="92.7" cy="290.1" r="2.9"/><circle cx="95.5" cy="291.1" r="2.9"/><circle cx="99.8" cy="291.6" r="2.9"/><circle cx="101.2" cy="291.2" r="2.9"/><circle cx="105.2" cy="289.9" r="2.9"/><circle cx="69.5" cy="294.2" r="2.9"/><circle cx="70.5" cy="293.3" r="2.9"/><circle cx="74" cy="293.1" r="2.9"/><circle cx="76.1" cy="293.1" r="2.9"/><circle cx="80.1" cy="292.4" r="2.9"/><circle cx="82.5" cy="293.4" r="2.9"/><circle cx="84.1" cy="293.1" r="2.9"/><circle cx="88.3" cy="293.5" r="2.9"/><circle cx="89.8" cy="294.6" r="2.9"/><circle cx="95.5" cy="293" r="2.9"/><circle cx="67.5" cy="295.3" r="2.9"/><circle cx="71.6" cy="296.1" r="2.9"/><circle cx="73.1" cy="297.3" r="2.9"/><circle cx="77.1" cy="297" r="2.9"/><circle cx="78.7" cy="297.1" r="2.9"/><circle cx="81.4" cy="297.1" r="2.9"/><circle cx="85.1" cy="295.9" r="2.9"/><circle cx="88.1" cy="297.2" r="2.9"/><circle cx="90.3" cy="295.5" r="2.9"/><circle cx="68.9" cy="299.2" r="2.9"/><circle cx="70.5" cy="299" r="2.9"/><circle cx="75" cy="298.2" r="2.9"/><circle cx="77.5" cy="299" r="2.9"/><circle cx="79.6" cy="299.8" r="2.9"/><circle cx="82.2" cy="299.1" r="2.9"/><circle cx="85.6" cy="300.2" r="2.9"/><circle cx="87.7" cy="299.8" r="2.9"/><circle cx="91.3" cy="299.4" r="2.9"/><circle cx="67.6" cy="301.8" r="2.9"/><circle cx="70.7" cy="302.9" r="2.9"/><circle cx="75" cy="302" r="2.9"/><circle cx="76.2" cy="302.9" r="2.9"/><circle cx="79.2" cy="301.6" r="2.9"/><circle cx="81.3" cy="301.6" r="2.9"/><circle cx="85.1" cy="301.9" r="2.9"/><circle cx="87.3" cy="301.9" r="2.9"/><circle cx="89.7" cy="301.4" r="2.9"/><circle cx="66.7" cy="303.9" r="2.9"/><circle cx="68.9" cy="305" r="2.9"/><circle cx="70.2" cy="305.4" r="2.9"/><circle cx="74.9" cy="305" r="2.9"/><circle cx="77.3" cy="305.4" r="2.9"/><circle cx="78.8" cy="304.8" r="2.9"/><circle cx="82.4" cy="305.4" r="2.9"/><circle cx="85.9" cy="305.4" r="2.9"/><circle cx="88.2" cy="305.6" r="2.9"/><circle cx="91.2" cy="305.1" r="2.9"/><circle cx="93" cy="303.7" r="2.9"/><circle cx="95.6" cy="304.4" r="2.9"/><circle cx="98.3" cy="305.4" r="2.9"/><circle cx="68.8" cy="306.5" r="2.9"/><circle cx="71.7" cy="307" r="2.9"/><circle cx="73.1" cy="307" r="2.9"/><circle cx="77.3" cy="306.9" r="2.9"/><circle cx="80.1" cy="308.5" r="2.9"/><circle cx="82.4" cy="307.2" r="2.9"/><circle cx="85.2" cy="307.9" r="2.9"/><circle cx="88.6" cy="307.8" r="2.9"/><circle cx="91.1" cy="306.6" r="2.9"/><circle cx="92.8" cy="307" r="2.9"/><circle cx="96.9" cy="307.1" r="2.9"/><circle cx="99.3" cy="306.4" r="2.9"/><circle cx="101" cy="307" r="2.9"/><circle cx="69.3" cy="309.6" r="2.9"/><circle cx="72.3" cy="311.3" r="2.9"/><circle cx="72.9" cy="310.2" r="2.9"/><circle cx="77.5" cy="311.3" r="2.9"/><circle cx="79.5" cy="309.8" r="2.9"/><circle cx="81.8" cy="311.3" r="2.9"/><circle cx="84.6" cy="310.5" r="2.9"/><circle cx="87.2" cy="310.4" r="2.9"/><circle cx="91.8" cy="309.5" r="2.9"/><circle cx="67.3" cy="313.7" r="2.9"/><circle cx="71.9" cy="312.3" r="2.9"/><circle cx="74.9" cy="313.6" r="2.9"/><circle cx="77.7" cy="312.6" r="2.9"/><circle cx="79.3" cy="312.9" r="2.9"/><circle cx="83.5" cy="313.3" r="2.9"/><circle cx="84.9" cy="312.9" r="2.9"/><circle cx="66.1" cy="314.9" r="2.9"/><circle cx="68.9" cy="315.8" r="2.9"/><circle cx="71.8" cy="316.2" r="2.9"/><circle cx="73.5" cy="314.9" r="2.9"/><circle cx="77.7" cy="315.1" r="2.9"/><circle cx="79.5" cy="315.6" r="2.9"/><circle cx="82" cy="316.4" r="2.9"/><circle cx="68.6" cy="319.6" r="2.9"/><circle cx="71.7" cy="318.5" r="2.9"/><circle cx="73.8" cy="318.8" r="2.9"/><circle cx="76.5" cy="318.3" r="2.9"/><circle cx="78.6" cy="318.2" r="2.9"/><circle cx="83.4" cy="317.9" r="2.9"/><circle cx="69.4" cy="320.9" r="2.9"/><circle cx="70.3" cy="320.7" r="2.9"/><circle cx="65.4" cy="317.4" r="2.9"/><circle cx="66" cy="309.2" r="2.9"/><circle cx="65.4" cy="300.4" r="2.9"/><circle cx="66.2" cy="299.2" r="2.9"/><circle cx="66.2" cy="295.5" r="2.9"/><circle cx="69" cy="288.5" r="2.9"/><circle cx="81.6" cy="286.7" r="2.9"/><circle cx="87.6" cy="281.7" r="2.9"/><circle cx="88.2" cy="278.6" r="2.9"/><circle cx="90.7" cy="273.8" r="2.9"/><circle cx="92.9" cy="271.3" r="2.9"/><circle cx="96" cy="270.6" r="2.9"/><circle cx="98" cy="273.4" r="2.9"/><circle cx="97" cy="273.5" r="2.9"/><circle cx="94.6" cy="281.6" r="2.9"/><circle cx="98.4" cy="283.5" r="2.9"/><circle cx="99.1" cy="284.1" r="2.9"/><circle cx="105.4" cy="289.3" r="2.9"/><circle cx="103.2" cy="290.9" r="2.9"/><circle cx="96.7" cy="292.3" r="2.9"/><circle cx="93.1" cy="297.2" r="2.9"/><circle cx="93.5" cy="303.1" r="2.9"/><circle cx="96.2" cy="303.9" r="2.9"/><circle cx="101.1" cy="308.5" r="2.9"/><circle cx="99.7" cy="309.5" r="2.9"/><circle cx="100.1" cy="309.2" r="2.9"/><circle cx="91" cy="311" r="2.9"/><circle cx="84.4" cy="318.3" r="2.9"/><circle cx="83.5" cy="319.5" r="2.9"/><circle cx="79.6" cy="319.1" r="2.9"/><circle cx="70.5" cy="322" r="2.9"/><circle cx="67.7" cy="322.7" r="2.9"/><circle cx="65.3" cy="321.3" r="2.9"/><circle cx="100.2" cy="241" r="2.9"/><circle cx="119.5" cy="238.6" r="2.9"/><circle cx="121" cy="238" r="2.9"/><circle cx="97.8" cy="251.6" r="2.9"/><circle cx="90.7" cy="253.3" r="2.9"/><circle cx="91.9" cy="255.2" r="2.9"/><circle cx="94.7" cy="258.7" r="2.9"/><circle cx="109.1" cy="253.5" r="2.9"/><circle cx="80" cy="256.3" r="2.9"/><circle cx="83.6" cy="256.3" r="2.9"/><circle cx="138" cy="254" r="2.9"/><circle cx="161.1" cy="251.6" r="2.9"/><circle cx="168.2" cy="246.9" r="2.9"/><circle cx="75.4" cy="265" r="2.9"/><circle cx="121" cy="268.9" r="2.9"/><circle cx="136" cy="272.2" r="2.9"/><circle cx="90.2" cy="271.2" r="2.9"/><circle cx="96.6" cy="270.5" r="2.9"/><circle cx="85.5" cy="274.5" r="2.9"/><circle cx="78.4" cy="276.9" r="2.9"/><circle cx="113.2" cy="277.6" r="2.9"/><circle cx="114.3" cy="280.7" r="2.9"/><circle cx="121.4" cy="282.3" r="2.9"/><circle cx="145.5" cy="284" r="2.9"/><circle cx="149.3" cy="283.5" r="2.9"/><circle cx="112" cy="296.5" r="2.9"/><circle cx="107.2" cy="299.3" r="2.9"/><circle cx="102.5" cy="306" r="2.9"/><circle cx="97.8" cy="310.7" r="2.9"/><circle cx="75.2" cy="265.5" r="2.9"/><circle cx="78.6" cy="276.8" r="2.9"/><circle cx="84.8" cy="275.2" r="2.9"/><circle cx="94.4" cy="260" r="2.9"/><circle cx="120.6" cy="268.3" r="2.9"/><circle cx="112.4" cy="277.9" r="2.9"/><circle cx="114.4" cy="279.3" r="2.9"/><circle cx="111.7" cy="281.4" r="2.9"/><circle cx="121.3" cy="282" r="2.9"/><circle cx="106.9" cy="299.3" r="2.9"/><circle cx="112.1" cy="296.5" r="2.9"/><circle cx="102" cy="306.2" r="2.9"/><circle cx="98.6" cy="311" r="2.9"/><circle cx="84.5" cy="321" r="2.9"/><circle cx="70" cy="286" r="2.9"/><circle cx="66" cy="289" r="2.9"/></g>
<g style="font-family:'Liberation Sans',Arial,sans-serif" stroke="#404040" stroke-width="0.22"><text x="55.5" y="329.8" font-size="9" fill="#404040" text-anchor="end">0</text><text x="55.5" y="318" font-size="9" fill="#404040" text-anchor="end">1 000</text><text x="55.5" y="306.3" font-size="9" fill="#404040" text-anchor="end">2 000</text><text x="55.5" y="294.5" font-size="9" fill="#404040" text-anchor="end">3 000</text><text x="55.5" y="282.7" font-size="9" fill="#404040" text-anchor="end">4 000</text><text x="55.5" y="271" font-size="9" fill="#404040" text-anchor="end">5 000</text><text x="55.5" y="259.2" font-size="9" fill="#404040" text-anchor="end">6 000</text><text x="55.5" y="247.4" font-size="9" fill="#404040" text-anchor="end">7 000</text><text x="55.5" y="235.7" font-size="9" fill="#404040" text-anchor="end">8 000</text><text x="55.5" y="223.9" font-size="9" fill="#404040" text-anchor="end">9 000</text><text x="62.8" y="342.5" font-size="9" fill="#404040" text-anchor="middle">0</text><text x="117.7" y="342.5" font-size="9" fill="#404040" text-anchor="middle">5 000</text><text x="172.6" y="342.5" font-size="9" fill="#404040" text-anchor="middle">10,000</text><text x="227.1" y="342.5" font-size="9" fill="#404040" text-anchor="middle">15,000</text></g>
<g stroke="#d9d9d9" stroke-width="1.1"><line x1="314.8" y1="309.2" x2="474.1" y2="309.2"/><line x1="314.8" y1="291.6" x2="474.1" y2="291.6"/><line x1="314.8" y1="273.9" x2="474.1" y2="273.9"/><line x1="314.8" y1="256.2" x2="474.1" y2="256.2"/><line x1="314.8" y1="238.6" x2="474.1" y2="238.6"/><line x1="314.8" y1="220.9" x2="474.1" y2="220.9"/><line x1="367.9" y1="220.9" x2="367.9" y2="326.9"/><line x1="421" y1="220.9" x2="421" y2="326.9"/><line x1="474.1" y1="220.9" x2="474.1" y2="326.9"/><line x1="314.8" y1="220.9" x2="314.8" y2="326.9"/><line x1="314.8" y1="326.9" x2="474.1" y2="326.9"/></g>
<line x1="316" y1="323.5" x2="417.4" y2="263.4" stroke="#595959" stroke-width="1.9" stroke-linecap="round" stroke-dasharray="0.3 2.65"/>
<g fill="#595959"><circle cx="345" cy="287.5" r="2.9"/><circle cx="347.6" cy="286.4" r="2.9"/><circle cx="348.7" cy="289.2" r="2.9"/><circle cx="350.1" cy="290.4" r="2.9"/><circle cx="346.1" cy="291.2" r="2.9"/><circle cx="348.8" cy="292.2" r="2.9"/><circle cx="345.2" cy="294.9" r="2.9"/><circle cx="348.2" cy="295.8" r="2.9"/><circle cx="336.2" cy="298.8" r="2.9"/><circle cx="345.5" cy="298.2" r="2.9"/><circle cx="348.4" cy="298.3" r="2.9"/><circle cx="333.9" cy="301" r="2.9"/><circle cx="341.7" cy="301.4" r="2.9"/><circle cx="345.5" cy="301.6" r="2.9"/><circle cx="348" cy="299.6" r="2.9"/><circle cx="326.7" cy="302.6" r="2.9"/><circle cx="329.3" cy="302.7" r="2.9"/><circle cx="330.2" cy="304" r="2.9"/><circle cx="333.5" cy="304" r="2.9"/><circle cx="336.2" cy="302.5" r="2.9"/><circle cx="340.3" cy="304" r="2.9"/><circle cx="343.3" cy="304" r="2.9"/><circle cx="344.4" cy="303.8" r="2.9"/><circle cx="348.6" cy="303.4" r="2.9"/><circle cx="328.7" cy="306.2" r="2.9"/><circle cx="331.7" cy="305.5" r="2.9"/><circle cx="334.8" cy="306" r="2.9"/><circle cx="337.2" cy="306.6" r="2.9"/><circle cx="339.5" cy="306" r="2.9"/><circle cx="343.1" cy="307.3" r="2.9"/><circle cx="345.9" cy="306.4" r="2.9"/><circle cx="347.6" cy="305.3" r="2.9"/><circle cx="326.6" cy="309.8" r="2.9"/><circle cx="328" cy="308" r="2.9"/><circle cx="330.8" cy="308.9" r="2.9"/><circle cx="334.3" cy="309.8" r="2.9"/><circle cx="337.8" cy="308.1" r="2.9"/><circle cx="340.4" cy="309.8" r="2.9"/><circle cx="343.3" cy="309.3" r="2.9"/><circle cx="344.8" cy="309.9" r="2.9"/><circle cx="348.8" cy="309.5" r="2.9"/><circle cx="351.8" cy="308.8" r="2.9"/><circle cx="320.5" cy="311.8" r="2.9"/><circle cx="322.3" cy="311.4" r="2.9"/><circle cx="326.3" cy="312.5" r="2.9"/><circle cx="328.4" cy="311" r="2.9"/><circle cx="332" cy="312.5" r="2.9"/><circle cx="333.5" cy="312.1" r="2.9"/><circle cx="337.8" cy="312.7" r="2.9"/><circle cx="339.7" cy="311.8" r="2.9"/><circle cx="342.7" cy="311.2" r="2.9"/><circle cx="344.6" cy="311.2" r="2.9"/><circle cx="348.5" cy="311.6" r="2.9"/><circle cx="351" cy="311.7" r="2.9"/><circle cx="353.7" cy="311.1" r="2.9"/><circle cx="319.3" cy="314.9" r="2.9"/><circle cx="322.6" cy="314.7" r="2.9"/><circle cx="324.6" cy="313.7" r="2.9"/><circle cx="329.6" cy="315.5" r="2.9"/><circle cx="331.3" cy="314.8" r="2.9"/><circle cx="333.6" cy="315.3" r="2.9"/><circle cx="336.7" cy="315.7" r="2.9"/><circle cx="340.3" cy="315.4" r="2.9"/><circle cx="343.5" cy="314.2" r="2.9"/><circle cx="344.3" cy="314" r="2.9"/><circle cx="347.4" cy="313.8" r="2.9"/><circle cx="349.9" cy="314.8" r="2.9"/><circle cx="321.1" cy="317" r="2.9"/><circle cx="323" cy="317.8" r="2.9"/><circle cx="326.7" cy="317.9" r="2.9"/><circle cx="328.3" cy="317.4" r="2.9"/><circle cx="330.6" cy="318.5" r="2.9"/><circle cx="335.2" cy="316.9" r="2.9"/><circle cx="335.9" cy="317" r="2.9"/><circle cx="339.4" cy="318.4" r="2.9"/><circle cx="343.4" cy="318.2" r="2.9"/><circle cx="344.3" cy="318.1" r="2.9"/><circle cx="348.6" cy="317.8" r="2.9"/><circle cx="317.9" cy="319.4" r="2.9"/><circle cx="319.7" cy="319.8" r="2.9"/><circle cx="322.1" cy="320.3" r="2.9"/><circle cx="325" cy="319.7" r="2.9"/><circle cx="327.7" cy="320.7" r="2.9"/><circle cx="330.2" cy="320.8" r="2.9"/><circle cx="333.4" cy="319.3" r="2.9"/><circle cx="337.8" cy="319.7" r="2.9"/><circle cx="343.4" cy="319.5" r="2.9"/><circle cx="345.2" cy="319.4" r="2.9"/><circle cx="320.2" cy="322.3" r="2.9"/><circle cx="323.7" cy="322.6" r="2.9"/><circle cx="325.5" cy="322.3" r="2.9"/><circle cx="317.6" cy="322.2" r="2.9"/><circle cx="319.1" cy="313.3" r="2.9"/><circle cx="320.4" cy="310.7" r="2.9"/><circle cx="320.6" cy="309.4" r="2.9"/><circle cx="325.7" cy="307.7" r="2.9"/><circle cx="326.1" cy="303.5" r="2.9"/><circle cx="327.3" cy="300.9" r="2.9"/><circle cx="330.2" cy="300.7" r="2.9"/><circle cx="336.4" cy="297.3" r="2.9"/><circle cx="336.2" cy="298.2" r="2.9"/><circle cx="336.8" cy="298.7" r="2.9"/><circle cx="345.3" cy="296.7" r="2.9"/><circle cx="344.8" cy="285.9" r="2.9"/><circle cx="345.8" cy="285.8" r="2.9"/><circle cx="347.9" cy="286.7" r="2.9"/><circle cx="349.5" cy="289.7" r="2.9"/><circle cx="351.1" cy="293.6" r="2.9"/><circle cx="350" cy="303.7" r="2.9"/><circle cx="354.4" cy="311.9" r="2.9"/><circle cx="354.5" cy="311" r="2.9"/><circle cx="353.5" cy="314.1" r="2.9"/><circle cx="350.7" cy="317.7" r="2.9"/><circle cx="345.4" cy="320" r="2.9"/><circle cx="337.6" cy="320.5" r="2.9"/><circle cx="331.7" cy="322.4" r="2.9"/><circle cx="329" cy="322.1" r="2.9"/><circle cx="326" cy="323.4" r="2.9"/><circle cx="317.9" cy="325.2" r="2.9"/><circle cx="387.7" cy="315.4" r="2.9"/><circle cx="394.8" cy="241.7" r="2.9"/><circle cx="409.7" cy="266.6" r="2.9"/><circle cx="417.3" cy="268.6" r="2.9"/><circle cx="385.9" cy="269.1" r="2.9"/><circle cx="370" cy="268" r="2.9"/><circle cx="372" cy="274.8" r="2.9"/><circle cx="399" cy="285.2" r="2.9"/><circle cx="369.3" cy="267.9" r="2.9"/><circle cx="371.6" cy="274.5" r="2.9"/><circle cx="319.6" cy="284.5" r="2.9"/><circle cx="342.4" cy="285.5" r="2.9"/><circle cx="350" cy="285.9" r="2.9"/><circle cx="364.8" cy="289.2" r="2.9"/><circle cx="370.6" cy="290.3" r="2.9"/><circle cx="356.9" cy="290.3" r="2.9"/><circle cx="354.4" cy="295.8" r="2.9"/><circle cx="362.8" cy="296.1" r="2.9"/><circle cx="371" cy="298.3" r="2.9"/><circle cx="357.5" cy="301.3" r="2.9"/><circle cx="369.3" cy="307.3" r="2.9"/><circle cx="362.4" cy="321.3" r="2.9"/><circle cx="351.3" cy="319.3" r="2.9"/><circle cx="336.2" cy="296.5" r="2.9"/><circle cx="327.2" cy="300" r="2.9"/><circle cx="319.6" cy="306.9" r="2.9"/></g>
<g style="font-family:'Liberation Sans',Arial,sans-serif" stroke="#404040" stroke-width="0.22"><text x="307" y="330.1" font-size="9" fill="#404040" text-anchor="end">0</text><text x="307" y="312.4" font-size="9" fill="#404040" text-anchor="end">2 000</text><text x="307" y="294.8" font-size="9" fill="#404040" text-anchor="end">4 000</text><text x="307" y="277.1" font-size="9" fill="#404040" text-anchor="end">6 000</text><text x="307" y="259.4" font-size="9" fill="#404040" text-anchor="end">8 000</text><text x="307" y="241.8" font-size="9" fill="#404040" text-anchor="end">10,000</text><text x="307" y="224.1" font-size="9" fill="#404040" text-anchor="end">12,000</text><text x="315" y="342.6" font-size="9" fill="#404040" text-anchor="middle">0</text><text x="368.9" y="342.6" font-size="9" fill="#404040" text-anchor="middle">5 000</text><text x="420.9" y="342.6" font-size="9" fill="#404040" text-anchor="middle">10,000</text><text x="474" y="342.6" font-size="9" fill="#404040" text-anchor="middle">15,000</text></g>
<g stroke="#d9d9d9" stroke-width="1.1"><line x1="78.6" y1="496.6" x2="226.8" y2="496.6"/><line x1="78.6" y1="478.9" x2="226.8" y2="478.9"/><line x1="78.6" y1="461.2" x2="226.8" y2="461.2"/><line x1="78.6" y1="443.6" x2="226.8" y2="443.6"/><line x1="78.6" y1="425.9" x2="226.8" y2="425.9"/><line x1="78.6" y1="408.3" x2="226.8" y2="408.3"/><line x1="128" y1="408.3" x2="128" y2="514.2"/><line x1="177.4" y1="408.3" x2="177.4" y2="514.2"/><line x1="226.8" y1="408.3" x2="226.8" y2="514.2"/><line x1="78.6" y1="408.3" x2="78.6" y2="514.2"/><line x1="78.6" y1="514.2" x2="226.8" y2="514.2"/></g>
<line x1="79.5" y1="512.6" x2="173.6" y2="422.4" stroke="#595959" stroke-width="1.9" stroke-linecap="round" stroke-dasharray="0.3 2.65"/>
<g fill="#595959"><circle cx="130.7" cy="466.5" r="2.9"/><circle cx="128.2" cy="468.1" r="2.9"/><circle cx="111.6" cy="477.5" r="2.9"/><circle cx="115.3" cy="476.9" r="2.9"/><circle cx="108.9" cy="480.3" r="2.9"/><circle cx="111.8" cy="480.5" r="2.9"/><circle cx="113.8" cy="479.7" r="2.9"/><circle cx="106.8" cy="482.1" r="2.9"/><circle cx="108.2" cy="482.3" r="2.9"/><circle cx="111" cy="482.8" r="2.9"/><circle cx="104.2" cy="486.4" r="2.9"/><circle cx="106.3" cy="484.8" r="2.9"/><circle cx="109.3" cy="486.3" r="2.9"/><circle cx="100.4" cy="489" r="2.9"/><circle cx="102.7" cy="488.6" r="2.9"/><circle cx="105.4" cy="488.4" r="2.9"/><circle cx="98.2" cy="490.8" r="2.9"/><circle cx="101" cy="491.7" r="2.9"/><circle cx="103" cy="491.7" r="2.9"/><circle cx="106.1" cy="491.5" r="2.9"/><circle cx="94.1" cy="494.8" r="2.9"/><circle cx="97.6" cy="494.5" r="2.9"/><circle cx="100" cy="493.7" r="2.9"/><circle cx="102.8" cy="493.5" r="2.9"/><circle cx="86.9" cy="496.6" r="2.9"/><circle cx="90" cy="497.6" r="2.9"/><circle cx="93.2" cy="497" r="2.9"/><circle cx="95" cy="496.1" r="2.9"/><circle cx="97.8" cy="497.5" r="2.9"/><circle cx="84.2" cy="500.4" r="2.9"/><circle cx="86.2" cy="499.6" r="2.9"/><circle cx="90.1" cy="499" r="2.9"/><circle cx="92.9" cy="499.1" r="2.9"/><circle cx="95.3" cy="499.5" r="2.9"/><circle cx="84.7" cy="501.3" r="2.9"/><circle cx="86" cy="501.6" r="2.9"/><circle cx="88.7" cy="501.8" r="2.9"/><circle cx="84.6" cy="505.2" r="2.9"/><circle cx="86.5" cy="503.9" r="2.9"/><circle cx="81.2" cy="508.4" r="2.9"/><circle cx="84.4" cy="508.2" r="2.9"/><circle cx="86.6" cy="506.7" r="2.9"/><circle cx="81.2" cy="510.3" r="2.9"/><circle cx="83" cy="510.1" r="2.9"/><circle cx="82.5" cy="506.1" r="2.9"/><circle cx="86.5" cy="496.4" r="2.9"/><circle cx="87.3" cy="496.1" r="2.9"/><circle cx="93.5" cy="493.6" r="2.9"/><circle cx="102" cy="486.1" r="2.9"/><circle cx="105.2" cy="483.2" r="2.9"/><circle cx="110.3" cy="478.2" r="2.9"/><circle cx="111.4" cy="477.2" r="2.9"/><circle cx="122.6" cy="469.7" r="2.9"/><circle cx="125.5" cy="469.3" r="2.9"/><circle cx="130.8" cy="466.4" r="2.9"/><circle cx="130.2" cy="466.7" r="2.9"/><circle cx="126" cy="468.8" r="2.9"/><circle cx="122.3" cy="470.7" r="2.9"/><circle cx="119.1" cy="475" r="2.9"/><circle cx="113.6" cy="481.7" r="2.9"/><circle cx="110.4" cy="486.6" r="2.9"/><circle cx="105.6" cy="491.6" r="2.9"/><circle cx="103.4" cy="494.4" r="2.9"/><circle cx="93.2" cy="499.5" r="2.9"/><circle cx="89.9" cy="502.8" r="2.9"/><circle cx="85.6" cy="508.8" r="2.9"/><circle cx="83.6" cy="510.6" r="2.9"/><circle cx="81.5" cy="509.6" r="2.9"/><circle cx="173.3" cy="416.8" r="2.9"/><circle cx="144.8" cy="434.2" r="2.9"/><circle cx="146.4" cy="443.7" r="2.9"/><circle cx="152.8" cy="440.3" r="2.9"/><circle cx="154.6" cy="441.1" r="2.9"/><circle cx="157.7" cy="442.4" r="2.9"/><circle cx="166.9" cy="445.8" r="2.9"/><circle cx="129.7" cy="456" r="2.9"/><circle cx="131.5" cy="461.7" r="2.9"/><circle cx="130.8" cy="467.3" r="2.9"/><circle cx="130.8" cy="475.8" r="2.9"/><circle cx="124" cy="469" r="2.9"/><circle cx="126" cy="471" r="2.9"/><circle cx="129.8" cy="456" r="2.9"/><circle cx="131.2" cy="461.5" r="2.9"/><circle cx="131.5" cy="467" r="2.9"/><circle cx="106.7" cy="469.8" r="2.9"/><circle cx="114.3" cy="469.8" r="2.9"/><circle cx="91.5" cy="489.1" r="2.9"/><circle cx="96.4" cy="486.3" r="2.9"/><circle cx="109.4" cy="492.5" r="2.9"/></g>
<g style="font-family:'Liberation Sans',Arial,sans-serif" stroke="#404040" stroke-width="0.22"><text x="71.5" y="517.4" font-size="9" fill="#404040" text-anchor="end">0</text><text x="71.5" y="499.8" font-size="9" fill="#404040" text-anchor="end">2 000</text><text x="71.5" y="482.1" font-size="9" fill="#404040" text-anchor="end">4 000</text><text x="71.5" y="464.4" font-size="9" fill="#404040" text-anchor="end">6 000</text><text x="71.5" y="446.8" font-size="9" fill="#404040" text-anchor="end">8 000</text><text x="71.5" y="429.1" font-size="9" fill="#404040" text-anchor="end">10,000</text><text x="71.5" y="411.5" font-size="9" fill="#404040" text-anchor="end">12,000</text><text x="78.9" y="529.9" font-size="9" fill="#404040" text-anchor="middle">0</text><text x="130" y="529.9" font-size="9" fill="#404040" text-anchor="middle">5 000</text><text x="178.9" y="529.9" font-size="9" fill="#404040" text-anchor="middle">10,000</text><text x="227.3" y="529.9" font-size="9" fill="#404040" text-anchor="middle">15,000</text></g>
<g stroke="#d9d9d9" stroke-width="1.1"><line x1="310.5" y1="501.9" x2="474.2" y2="501.9"/><line x1="310.5" y1="490.1" x2="474.2" y2="490.1"/><line x1="310.5" y1="478.3" x2="474.2" y2="478.3"/><line x1="310.5" y1="466.5" x2="474.2" y2="466.5"/><line x1="310.5" y1="454.8" x2="474.2" y2="454.8"/><line x1="310.5" y1="443" x2="474.2" y2="443"/><line x1="310.5" y1="431.2" x2="474.2" y2="431.2"/><line x1="310.5" y1="419.4" x2="474.2" y2="419.4"/><line x1="310.5" y1="407.6" x2="474.2" y2="407.6"/><line x1="365.1" y1="407.6" x2="365.1" y2="513.7"/><line x1="419.6" y1="407.6" x2="419.6" y2="513.7"/><line x1="474.2" y1="407.6" x2="474.2" y2="513.7"/><line x1="310.5" y1="407.6" x2="310.5" y2="513.7"/><line x1="310.5" y1="513.7" x2="474.2" y2="513.7"/></g>
<line x1="311.6" y1="505.3" x2="422.6" y2="416.8" stroke="#595959" stroke-width="1.9" stroke-linecap="round" stroke-dasharray="0.3 2.65"/>
<g fill="#595959"><circle cx="344.8" cy="462.3" r="2.9"/><circle cx="342" cy="465.2" r="2.9"/><circle cx="346.4" cy="465.3" r="2.9"/><circle cx="342.3" cy="466.4" r="2.9"/><circle cx="345.8" cy="467.3" r="2.9"/><circle cx="349" cy="467.6" r="2.9"/><circle cx="351.4" cy="466.1" r="2.9"/><circle cx="341.3" cy="470.6" r="2.9"/><circle cx="342.1" cy="468.9" r="2.9"/><circle cx="345.3" cy="470.8" r="2.9"/><circle cx="348.1" cy="470.3" r="2.9"/><circle cx="352.4" cy="470.2" r="2.9"/><circle cx="337.7" cy="473.4" r="2.9"/><circle cx="339.4" cy="471.7" r="2.9"/><circle cx="343.2" cy="472.2" r="2.9"/><circle cx="345.7" cy="471.6" r="2.9"/><circle cx="349.2" cy="471.7" r="2.9"/><circle cx="352.2" cy="473.4" r="2.9"/><circle cx="332.1" cy="476.6" r="2.9"/><circle cx="335.3" cy="474.4" r="2.9"/><circle cx="336.6" cy="474.7" r="2.9"/><circle cx="340.7" cy="475.7" r="2.9"/><circle cx="343.1" cy="475.4" r="2.9"/><circle cx="345.7" cy="475.7" r="2.9"/><circle cx="349" cy="476.4" r="2.9"/><circle cx="328.2" cy="478.2" r="2.9"/><circle cx="333" cy="478.6" r="2.9"/><circle cx="335.7" cy="478.9" r="2.9"/><circle cx="338.2" cy="479.4" r="2.9"/><circle cx="340.9" cy="477.8" r="2.9"/><circle cx="342.5" cy="478.1" r="2.9"/><circle cx="344.8" cy="477.7" r="2.9"/><circle cx="349.5" cy="479.2" r="2.9"/><circle cx="326.4" cy="482.1" r="2.9"/><circle cx="328.9" cy="482" r="2.9"/><circle cx="332.3" cy="482.1" r="2.9"/><circle cx="333.8" cy="480.5" r="2.9"/><circle cx="337" cy="482" r="2.9"/><circle cx="339.2" cy="480.6" r="2.9"/><circle cx="343.6" cy="482.2" r="2.9"/><circle cx="345.2" cy="481" r="2.9"/><circle cx="349.1" cy="481.5" r="2.9"/><circle cx="325.3" cy="482.8" r="2.9"/><circle cx="328.8" cy="483.1" r="2.9"/><circle cx="331" cy="483.9" r="2.9"/><circle cx="335.7" cy="484.3" r="2.9"/><circle cx="337" cy="484.5" r="2.9"/><circle cx="339.6" cy="483" r="2.9"/><circle cx="342.7" cy="483.7" r="2.9"/><circle cx="346.3" cy="483.8" r="2.9"/><circle cx="349.2" cy="483" r="2.9"/><circle cx="323.9" cy="486.9" r="2.9"/><circle cx="326.7" cy="486" r="2.9"/><circle cx="328.3" cy="485.8" r="2.9"/><circle cx="333" cy="486.4" r="2.9"/><circle cx="335" cy="486.9" r="2.9"/><circle cx="336.9" cy="485.7" r="2.9"/><circle cx="339.2" cy="487.5" r="2.9"/><circle cx="342.3" cy="487.7" r="2.9"/><circle cx="345.6" cy="487.2" r="2.9"/><circle cx="323.8" cy="489.4" r="2.9"/><circle cx="327.1" cy="488.5" r="2.9"/><circle cx="329.5" cy="490.2" r="2.9"/><circle cx="331.3" cy="488.5" r="2.9"/><circle cx="334.6" cy="488.7" r="2.9"/><circle cx="337.4" cy="490" r="2.9"/><circle cx="339.4" cy="488.7" r="2.9"/><circle cx="343.1" cy="488.8" r="2.9"/><circle cx="345.3" cy="489.4" r="2.9"/><circle cx="321.7" cy="492.4" r="2.9"/><circle cx="322.9" cy="491.6" r="2.9"/><circle cx="327.1" cy="491.7" r="2.9"/><circle cx="328.2" cy="491.8" r="2.9"/><circle cx="332.8" cy="492.2" r="2.9"/><circle cx="335.2" cy="491.4" r="2.9"/><circle cx="337.4" cy="491.9" r="2.9"/><circle cx="339.7" cy="492.7" r="2.9"/><circle cx="342.8" cy="491.5" r="2.9"/><circle cx="321.7" cy="495.6" r="2.9"/><circle cx="324.3" cy="494.8" r="2.9"/><circle cx="327.2" cy="494.4" r="2.9"/><circle cx="328.5" cy="495.3" r="2.9"/><circle cx="332.8" cy="494.2" r="2.9"/><circle cx="334.1" cy="494.1" r="2.9"/><circle cx="337.4" cy="494.3" r="2.9"/><circle cx="320.1" cy="498.9" r="2.9"/><circle cx="323.1" cy="497.7" r="2.9"/><circle cx="326" cy="498.3" r="2.9"/><circle cx="328.1" cy="497.6" r="2.9"/><circle cx="331.2" cy="498.6" r="2.9"/><circle cx="333.6" cy="498.1" r="2.9"/><circle cx="318.3" cy="501.5" r="2.9"/><circle cx="321.7" cy="500.2" r="2.9"/><circle cx="324.5" cy="500.5" r="2.9"/><circle cx="325.3" cy="501.6" r="2.9"/><circle cx="328.2" cy="499.6" r="2.9"/><circle cx="320.8" cy="503.9" r="2.9"/><circle cx="322.6" cy="504" r="2.9"/><circle cx="326.6" cy="503.4" r="2.9"/><circle cx="316.9" cy="505.5" r="2.9"/><circle cx="320.5" cy="506.1" r="2.9"/><circle cx="322.6" cy="506.5" r="2.9"/><circle cx="318.3" cy="501.9" r="2.9"/><circle cx="318.9" cy="498.9" r="2.9"/><circle cx="319.6" cy="497.1" r="2.9"/><circle cx="321.6" cy="491.4" r="2.9"/><circle cx="324.1" cy="484.8" r="2.9"/><circle cx="325.7" cy="482.9" r="2.9"/><circle cx="330.2" cy="476.4" r="2.9"/><circle cx="339.5" cy="469.2" r="2.9"/><circle cx="341.4" cy="466.2" r="2.9"/><circle cx="343.1" cy="463" r="2.9"/><circle cx="344.2" cy="460.5" r="2.9"/><circle cx="344.3" cy="458.8" r="2.9"/><circle cx="349.8" cy="465.5" r="2.9"/><circle cx="353.9" cy="469.2" r="2.9"/><circle cx="353.5" cy="471.8" r="2.9"/><circle cx="349.9" cy="482.6" r="2.9"/><circle cx="348" cy="485.8" r="2.9"/><circle cx="346.6" cy="487.2" r="2.9"/><circle cx="343.8" cy="493" r="2.9"/><circle cx="337.1" cy="495.4" r="2.9"/><circle cx="331.8" cy="500.2" r="2.9"/><circle cx="329.6" cy="500.9" r="2.9"/><circle cx="323.5" cy="507.5" r="2.9"/><circle cx="316.3" cy="509.4" r="2.9"/><circle cx="313.8" cy="510.6" r="2.9"/><circle cx="315.5" cy="508" r="2.9"/><circle cx="317.5" cy="505" r="2.9"/><circle cx="316.5" cy="511" r="2.9"/><circle cx="320" cy="510.5" r="2.9"/><circle cx="318" cy="501" r="2.9"/><circle cx="379" cy="432.2" r="2.9"/><circle cx="380.3" cy="450" r="2.9"/><circle cx="381" cy="451.4" r="2.9"/><circle cx="370" cy="454" r="2.9"/><circle cx="382.8" cy="476.5" r="2.9"/><circle cx="422.6" cy="472.4" r="2.9"/><circle cx="373.8" cy="479.6" r="2.9"/><circle cx="342.8" cy="426.8" r="2.9"/><circle cx="353.7" cy="423.2" r="2.9"/><circle cx="379.2" cy="432.3" r="2.9"/><circle cx="359" cy="438.3" r="2.9"/><circle cx="347.9" cy="443.7" r="2.9"/><circle cx="333.2" cy="450.5" r="2.9"/><circle cx="340.5" cy="451.9" r="2.9"/><circle cx="328.6" cy="456.8" r="2.9"/><circle cx="330.5" cy="458.6" r="2.9"/><circle cx="355" cy="457.4" r="2.9"/><circle cx="362.8" cy="454.6" r="2.9"/><circle cx="370.5" cy="453.5" r="2.9"/><circle cx="380.5" cy="449.5" r="2.9"/><circle cx="379.5" cy="451.4" r="2.9"/><circle cx="330.5" cy="467.4" r="2.9"/><circle cx="333.2" cy="467.4" r="2.9"/><circle cx="366.8" cy="477.2" r="2.9"/><circle cx="373.7" cy="480.8" r="2.9"/><circle cx="382.8" cy="475.9" r="2.9"/><circle cx="382.8" cy="485.5" r="2.9"/><circle cx="355.9" cy="480.1" r="2.9"/><circle cx="352.6" cy="489.5" r="2.9"/><circle cx="358.6" cy="471.4" r="2.9"/></g>
<g style="font-family:'Liberation Sans',Arial,sans-serif" stroke="#404040" stroke-width="0.22"><text x="302.5" y="516.9" font-size="9" fill="#404040" text-anchor="end">0</text><text x="302.5" y="505.1" font-size="9" fill="#404040" text-anchor="end">1 000</text><text x="302.5" y="493.3" font-size="9" fill="#404040" text-anchor="end">2 000</text><text x="302.5" y="481.5" font-size="9" fill="#404040" text-anchor="end">3 000</text><text x="302.5" y="469.7" font-size="9" fill="#404040" text-anchor="end">4 000</text><text x="302.5" y="458" font-size="9" fill="#404040" text-anchor="end">5 000</text><text x="302.5" y="446.2" font-size="9" fill="#404040" text-anchor="end">6 000</text><text x="302.5" y="434.4" font-size="9" fill="#404040" text-anchor="end">7 000</text><text x="302.5" y="422.6" font-size="9" fill="#404040" text-anchor="end">8 000</text><text x="302.5" y="410.8" font-size="9" fill="#404040" text-anchor="end">9 000</text><text x="310.6" y="529.6" font-size="9" fill="#404040" text-anchor="middle">0</text><text x="364.2" y="529.6" font-size="9" fill="#404040" text-anchor="middle">5 000</text><text x="418.9" y="529.6" font-size="9" fill="#404040" text-anchor="middle">10,000</text><text x="474" y="529.6" font-size="9" fill="#404040" text-anchor="middle">15,000</text></g>
<g style="font-family:'Liberation Sans',Arial,sans-serif"><text x="12.5" y="201.5" font-size="9.5" fill="#404040">F</text><text x="260" y="201.5" font-size="9.5" fill="#404040">G</text><text x="12.5" y="388.5" font-size="9.5" fill="#404040">H</text><text x="261" y="388.5" font-size="9.5" fill="#404040">I</text><text x="12.5" y="13" font-size="9.5" fill="#404040">E</text></g>
<g style="font-family:'Liberation Sans',Arial,sans-serif" stroke="#404040" stroke-width="0.22"><text x="107.1" y="357.3" font-size="9" fill="#404040" textLength="76" lengthAdjust="spacingAndGlyphs">QIF Scores in block 1</text><text x="355.9" y="357.3" font-size="9" fill="#404040" textLength="76" lengthAdjust="spacingAndGlyphs">QIF Scores in block 1</text><text x="87.6" y="544" font-size="9" fill="#404040" textLength="130" lengthAdjust="spacingAndGlyphs">QIF Scores in Stromal Mask, cut 18</text><text x="344.1" y="544" font-size="9" fill="#404040" textLength="97" lengthAdjust="spacingAndGlyphs">QIF Scores in Tumor Mask</text><text transform="translate(28.7 304.6) rotate(-90)" font-size="9" fill="#404040" textLength="70" lengthAdjust="spacingAndGlyphs">QIF Scores in block 2</text><text transform="translate(276.6 305.2) rotate(-90)" font-size="9" fill="#404040" textLength="70.6" lengthAdjust="spacingAndGlyphs">QIF Scores in block 3</text><text transform="translate(29.4 528.8) rotate(-90)" font-size="9" fill="#404040" textLength="118" lengthAdjust="spacingAndGlyphs">QIF Scores in Stromal Mask, cut</text><text transform="translate(40.5 467.6) rotate(-90)" font-size="9" fill="#404040" textLength="9.4" lengthAdjust="spacingAndGlyphs">17</text><text transform="translate(276.2 512) rotate(-90)" font-size="9" fill="#404040" textLength="102.2" lengthAdjust="spacingAndGlyphs">QIF Scores in Stromal Mask</text><text x="145.7" y="313.3" font-size="9.2" fill="#404040" textLength="77.6" lengthAdjust="spacingAndGlyphs">y = 0.6884x + 1040.8</text><text x="163.6" y="323.9" font-size="9.2" fill="#404040" textLength="42.8" lengthAdjust="spacingAndGlyphs">R<tspan dy="-3" font-size="6">2</tspan><tspan dy="3"> = 0.4618</tspan></text><text x="393.2" y="313.6" font-size="9.2" fill="#404040" textLength="77.4" lengthAdjust="spacingAndGlyphs">y = 0.6941x + 459.53</text><text x="410.4" y="324.3" font-size="9.2" fill="#404040" textLength="42.5" lengthAdjust="spacingAndGlyphs">R<tspan dy="-3" font-size="6">2</tspan><tspan dy="3"> = 0.6021</tspan></text><text x="146.2" y="501.3" font-size="9.2" fill="#404040" textLength="77.4" lengthAdjust="spacingAndGlyphs">y = 1.0767x + 93.612</text><text x="163.9" y="511.6" font-size="9.2" fill="#404040" textLength="43.1" lengthAdjust="spacingAndGlyphs">R<tspan dy="-3" font-size="6">2</tspan><tspan dy="3"> = 0.9436</tspan></text><text x="395.3" y="498.9" font-size="9.2" fill="#404040" textLength="77.4" lengthAdjust="spacingAndGlyphs">y = 0.7377x + 640.96</text><text x="413" y="509.6" font-size="9.2" fill="#404040" textLength="42.9" lengthAdjust="spacingAndGlyphs">R<tspan dy="-3" font-size="6">2</tspan><tspan dy="3"> = 0.5402</tspan></text></g>
</svg>
</body></html>
